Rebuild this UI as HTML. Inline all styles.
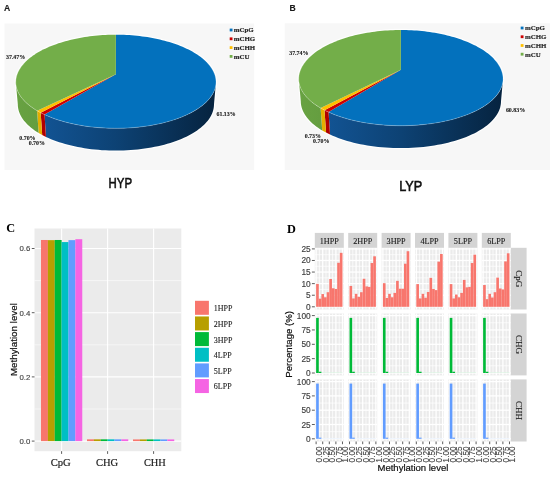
<!DOCTYPE html>
<html><head><meta charset="utf-8"><title>Methylation figure</title>
<style>html,body{margin:0;padding:0;background:#fff;}body{width:550px;height:478px;overflow:hidden;}svg{display:block;}</style>
</head><body>
<svg width="550" height="478" viewBox="0 0 550 478">
<defs><linearGradient id="pas0" gradientUnits="userSpaceOnUse" x1="15.8" y1="0" x2="216" y2="0"><stop offset="0" stop-color="#145a9f"/><stop offset="0.5" stop-color="#0d4274"/><stop offset="1" stop-color="#06233f"/></linearGradient><linearGradient id="pas1" gradientUnits="userSpaceOnUse" x1="15.8" y1="0" x2="216" y2="0"><stop offset="0" stop-color="#b80000"/><stop offset="0.5" stop-color="#9a0000"/><stop offset="1" stop-color="#700000"/></linearGradient><linearGradient id="pas2" gradientUnits="userSpaceOnUse" x1="15.8" y1="0" x2="216" y2="0"><stop offset="0" stop-color="#ecb400"/><stop offset="0.5" stop-color="#d09c00"/><stop offset="1" stop-color="#a07800"/></linearGradient><linearGradient id="pas3" gradientUnits="userSpaceOnUse" x1="15.8" y1="0" x2="216" y2="0"><stop offset="0" stop-color="#68a242"/><stop offset="0.5" stop-color="#5a8f38"/><stop offset="1" stop-color="#3f6a28"/></linearGradient><linearGradient id="pbs0" gradientUnits="userSpaceOnUse" x1="298.75" y1="0" x2="503.05" y2="0"><stop offset="0" stop-color="#145a9f"/><stop offset="0.5" stop-color="#0d4274"/><stop offset="1" stop-color="#06233f"/></linearGradient><linearGradient id="pbs1" gradientUnits="userSpaceOnUse" x1="298.75" y1="0" x2="503.05" y2="0"><stop offset="0" stop-color="#b80000"/><stop offset="0.5" stop-color="#9a0000"/><stop offset="1" stop-color="#700000"/></linearGradient><linearGradient id="pbs2" gradientUnits="userSpaceOnUse" x1="298.75" y1="0" x2="503.05" y2="0"><stop offset="0" stop-color="#ecb400"/><stop offset="0.5" stop-color="#d09c00"/><stop offset="1" stop-color="#a07800"/></linearGradient><linearGradient id="pbs3" gradientUnits="userSpaceOnUse" x1="298.75" y1="0" x2="503.05" y2="0"><stop offset="0" stop-color="#68a242"/><stop offset="0.5" stop-color="#5a8f38"/><stop offset="1" stop-color="#3f6a28"/></linearGradient></defs>
<rect width="550" height="478" fill="#fff"/>
<text x="4" y="10.9" font-family='"Liberation Sans", Arial, sans-serif' font-size="8.6" font-weight="bold" fill="#1a1a1a" stroke="#1a1a1a" stroke-width="0.15">A</text>
<text x="289.4" y="11" font-family='"Liberation Sans", Arial, sans-serif' font-size="8.6" font-weight="bold" fill="#1a1a1a" stroke="#1a1a1a" stroke-width="0.15">B</text>
<text x="6.3" y="232.4" font-family='"Liberation Serif", "Times New Roman", serif' font-size="12.3" font-weight="bold" fill="#000">C</text>
<text x="286.9" y="233.0" font-family='"Liberation Serif", "Times New Roman", serif' font-size="12.3" font-weight="bold" fill="#000">D</text>
<rect x="4.5" y="23.5" width="249.7" height="146.5" fill="#f7f7f7"/>
<rect x="284.7" y="23.3" width="265.3" height="146.7" fill="#f7f7f7"/>
<path d="M15.8,82.04 L15.82,81.01 L15.9,79.98 L16.02,78.96 L16.18,77.95 L16.39,76.94 L16.65,75.93 L16.96,74.93 L17.3,73.94 L17.69,72.95 L18.13,71.97 L18.61,71 L19.12,70.04 L19.68,69.09 L20.28,68.14 L20.92,67.2 L21.6,66.27 L22.32,65.35 L23.08,64.45 L23.87,63.55 L24.7,62.66 L25.56,61.78 L26.46,60.91 L27.39,60.06 L28.36,59.22 L29.36,58.38 L30.39,57.56 L31.45,56.76 L32.55,55.96 L33.67,55.18 L34.82,54.41 L36,53.65 L37.21,52.91 L38.45,52.18 L39.71,51.46 L41,50.75 L42.31,50.06 L43.65,49.39 L45.01,48.73 L46.4,48.08 L47.81,47.45 L49.24,46.83 L50.69,46.22 L52.16,45.63 L53.66,45.06 L55.17,44.5 L56.7,43.95 L58.25,43.42 L59.81,42.91 L61.4,42.41 L63,41.92 L64.61,41.45 L66.25,41 L67.89,40.56 L69.55,40.13 L71.23,39.73 L72.91,39.33 L74.61,38.96 L76.32,38.6 L78.05,38.25 L79.78,37.92 L81.52,37.61 L83.28,37.31 L85.04,37.03 L86.81,36.77 L88.59,36.52 L90.38,36.28 L92.17,36.06 L93.97,35.86 L95.78,35.68 L97.59,35.51 L99.4,35.35 L101.23,35.22 L103.05,35.1 L104.88,34.99 L106.71,34.9 L108.55,34.83 L110.38,34.77 L112.22,34.73 L114.06,34.71 L115.9,34.7 L117.74,34.71 L119.58,34.73 L121.42,34.77 L123.25,34.83 L125.09,34.9 L126.92,34.99 L128.75,35.1 L130.57,35.22 L132.4,35.35 L134.21,35.51 L136.02,35.68 L137.83,35.86 L139.63,36.06 L141.42,36.28 L143.21,36.52 L144.99,36.77 L146.76,37.03 L148.52,37.31 L150.28,37.61 L152.02,37.92 L153.75,38.25 L155.48,38.6 L157.19,38.96 L158.89,39.33 L160.57,39.73 L162.25,40.13 L163.91,40.56 L165.55,41 L167.19,41.45 L168.8,41.92 L170.4,42.41 L171.99,42.91 L173.55,43.42 L175.1,43.95 L176.63,44.5 L178.14,45.06 L179.64,45.63 L181.11,46.22 L182.56,46.83 L183.99,47.45 L185.4,48.08 L186.79,48.73 L188.15,49.39 L189.49,50.06 L190.8,50.75 L192.09,51.46 L193.35,52.18 L194.59,52.91 L195.8,53.65 L196.98,54.41 L198.13,55.18 L199.25,55.96 L200.35,56.76 L201.41,57.56 L202.44,58.38 L203.44,59.22 L204.41,60.06 L205.34,60.91 L206.24,61.78 L207.1,62.66 L207.93,63.55 L208.72,64.45 L209.48,65.35 L210.2,66.27 L210.88,67.2 L211.52,68.14 L212.12,69.09 L212.68,70.04 L213.19,71 L213.67,71.97 L214.11,72.95 L214.5,73.94 L214.84,74.93 L215.15,75.93 L215.41,76.94 L215.62,77.95 L215.78,78.96 L215.9,79.98 L215.98,81.01 L216,82.04 L214,104.34 L213.97,105.45 L213.89,106.56 L213.75,107.68 L213.55,108.8 L213.29,109.92 L212.98,111.05 L212.61,112.17 L212.18,113.29 L211.69,114.41 L211.14,115.52 L210.53,116.64 L209.85,117.75 L209.12,118.85 L208.33,119.95 L207.48,121.04 L206.56,122.13 L205.58,123.21 L204.55,124.28 L203.45,125.34 L202.29,126.39 L201.07,127.42 L199.79,128.45 L198.45,129.46 L197.05,130.46 L195.59,131.44 L194.07,132.41 L192.49,133.36 L190.86,134.3 L189.17,135.22 L187.42,136.11 L185.62,136.99 L183.77,137.85 L181.86,138.68 L179.9,139.5 L177.89,140.28 L175.83,141.05 L173.72,141.79 L171.56,142.51 L169.36,143.2 L167.12,143.86 L164.83,144.49 L162.5,145.1 L160.14,145.68 L157.73,146.23 L155.29,146.75 L152.82,147.23 L150.32,147.69 L147.79,148.11 L145.23,148.51 L142.64,148.87 L140.03,149.19 L137.41,149.49 L134.76,149.75 L132.1,149.97 L129.42,150.16 L126.73,150.32 L124.03,150.44 L121.32,150.53 L118.61,150.58 L115.9,150.6 L113.19,150.58 L110.48,150.53 L107.77,150.44 L105.07,150.32 L102.38,150.16 L99.7,149.97 L97.04,149.75 L94.39,149.49 L91.77,149.19 L89.16,148.87 L86.57,148.51 L84.01,148.11 L81.48,147.69 L78.98,147.23 L76.51,146.75 L74.07,146.23 L71.66,145.68 L69.3,145.1 L66.97,144.49 L64.68,143.86 L62.44,143.2 L60.24,142.51 L58.08,141.79 L55.97,141.05 L53.91,140.28 L51.9,139.5 L49.94,138.68 L48.03,137.85 L46.18,136.99 L44.38,136.11 L42.63,135.22 L40.94,134.3 L39.31,133.36 L37.73,132.41 L36.21,131.44 L34.75,130.46 L33.35,129.46 L32.01,128.45 L30.73,127.42 L29.51,126.39 L28.35,125.34 L27.25,124.28 L26.22,123.21 L25.24,122.13 L24.32,121.04 L23.47,119.95 L22.68,118.85 L21.95,117.75 L21.27,116.64 L20.66,115.52 L20.11,114.41 L19.62,113.29 L19.19,112.17 L18.82,111.05 L18.51,109.92 L18.25,108.8 L18.05,107.68 L17.91,106.56 L17.83,105.45 L17.8,104.34Z" fill="#fff" stroke="#fff" stroke-opacity="0.85" stroke-width="2.4"/>
<path d="M216,82.04 L215.95,83.52 L215.8,85 L215.54,86.49 L215.19,87.98 L214.72,89.48 L214.15,90.97 L213.47,92.45 L212.69,93.94 L211.79,95.41 L210.79,96.88 L209.67,98.34 L208.45,99.79 L207.11,101.22 L205.67,102.64 L204.11,104.03 L202.45,105.41 L200.67,106.77 L198.79,108.1 L196.8,109.41 L194.71,110.69 L192.51,111.93 L190.21,113.15 L187.8,114.33 L185.3,115.48 L182.71,116.59 L180.02,117.66 L177.24,118.68 L174.37,119.67 L171.42,120.6 L168.39,121.5 L165.28,122.34 L162.1,123.13 L158.86,123.87 L155.54,124.56 L152.17,125.19 L148.75,125.77 L145.27,126.29 L141.75,126.75 L138.19,127.15 L134.6,127.49 L130.98,127.78 L127.33,128 L123.67,128.16 L119.99,128.26 L116.31,128.3 L112.63,128.28 L108.95,128.19 L105.29,128.04 L101.64,127.83 L98.01,127.56 L94.41,127.23 L90.84,126.84 L87.31,126.39 L83.83,125.89 L80.39,125.32 L77.01,124.7 L73.68,124.03 L70.42,123.3 L67.22,122.52 L64.1,121.69 L61.05,120.81 L58.08,119.88 L55.19,118.91 L52.4,117.89 L49.69,116.83 L47.07,115.73 L44.55,114.59 L45.97,136.89 L48.44,138.03 L51.01,139.13 L53.67,140.19 L56.41,141.21 L59.24,142.18 L62.15,143.11 L65.13,143.99 L68.19,144.82 L71.33,145.6 L74.52,146.33 L77.78,147 L81.1,147.62 L84.47,148.19 L87.88,148.69 L91.34,149.14 L94.84,149.53 L98.37,149.86 L101.92,150.13 L105.5,150.34 L109.09,150.49 L112.7,150.58 L116.3,150.6 L119.91,150.56 L123.51,150.46 L127.1,150.3 L130.67,150.08 L134.22,149.79 L137.75,149.45 L141.23,149.05 L144.68,148.59 L148.09,148.07 L151.45,147.49 L154.75,146.86 L158,146.17 L161.18,145.43 L164.3,144.64 L167.34,143.8 L170.31,142.9 L173.2,141.97 L176.01,140.98 L178.74,139.96 L181.37,138.89 L183.92,137.78 L186.37,136.63 L188.72,135.45 L190.98,134.23 L193.13,132.99 L195.18,131.71 L197.13,130.4 L198.98,129.07 L200.72,127.71 L202.35,126.33 L203.87,124.94 L205.29,123.52 L206.6,122.09 L207.8,120.64 L208.89,119.18 L209.88,117.71 L210.75,116.24 L211.52,114.75 L212.19,113.27 L212.75,111.78 L213.2,110.28 L213.55,108.79 L213.8,107.3 L213.95,105.82 L214,104.34Z" fill="url(#pas0)"/>
<path d="M44.55,114.59 L42.58,113.65 L40.68,112.68 L42.19,134.98 L44.05,135.95 L45.97,136.89Z" fill="url(#pas1)"/>
<path d="M40.68,112.68 L38.85,111.69 L37.08,110.68 L38.66,132.98 L40.39,133.99 L42.19,134.98Z" fill="url(#pas2)"/>
<path d="M37.08,110.68 L34.99,109.4 L33,108.1 L31.12,106.76 L29.35,105.41 L27.68,104.03 L26.13,102.63 L24.68,101.22 L23.35,99.78 L22.12,98.34 L21.01,96.88 L20,95.41 L19.11,93.93 L18.32,92.45 L17.65,90.96 L17.08,89.47 L16.61,87.98 L16.26,86.49 L16,85 L15.85,83.52 L15.8,82.04 L17.8,104.34 L17.85,105.82 L18,107.3 L18.25,108.79 L18.6,110.28 L19.05,111.77 L19.61,113.26 L20.28,114.75 L21.05,116.23 L21.92,117.71 L22.91,119.18 L24,120.64 L25.2,122.08 L26.51,123.52 L27.92,124.93 L29.45,126.33 L31.08,127.71 L32.82,129.06 L34.66,130.4 L36.61,131.7 L38.66,132.98Z" fill="url(#pas3)"/>
<path d="M115.9,74.3 L115.9,34.7 L118.56,34.72 L121.21,34.77 L123.86,34.85 L126.51,34.97 L129.15,35.12 L131.78,35.31 L134.4,35.53 L137.02,35.78 L139.62,36.06 L142.21,36.38 L144.78,36.74 L147.33,37.12 L149.87,37.54 L152.39,37.99 L154.88,38.48 L157.36,39 L159.8,39.55 L162.23,40.13 L164.62,40.75 L166.98,41.39 L169.31,42.07 L171.61,42.79 L173.87,43.53 L176.1,44.3 L178.28,45.11 L180.43,45.95 L182.53,46.81 L184.59,47.71 L186.6,48.64 L188.57,49.6 L190.48,50.58 L192.34,51.6 L194.15,52.64 L195.9,53.72 L197.59,54.81 L199.23,55.94 L200.8,57.09 L202.3,58.27 L203.74,59.47 L205.11,60.7 L206.41,61.95 L207.63,63.22 L208.79,64.52 L209.86,65.83 L210.85,67.17 L211.77,68.53 L212.6,69.9 L213.34,71.29 L214,72.7 L214.56,74.12 L215.04,75.56 L215.42,77.01 L215.71,78.47 L215.9,79.94 L215.99,81.42 L215.98,82.91 L215.87,84.4 L215.66,85.9 L215.34,87.4 L214.91,88.9 L214.38,90.4 L213.74,91.9 L212.99,93.4 L212.13,94.88 L211.16,96.37 L210.07,97.84 L208.88,99.3 L207.57,100.74 L206.16,102.17 L204.63,103.59 L202.99,104.98 L201.23,106.35 L199.37,107.7 L197.4,109.02 L195.33,110.32 L193.14,111.58 L190.86,112.82 L188.47,114.01 L185.98,115.18 L183.39,116.3 L180.71,117.39 L177.94,118.43 L175.07,119.43 L172.12,120.39 L169.09,121.3 L165.98,122.15 L162.8,122.96 L159.54,123.72 L156.23,124.42 L152.85,125.07 L149.41,125.66 L145.92,126.19 L142.39,126.67 L138.81,127.09 L135.2,127.44 L131.56,127.74 L127.9,127.97 L124.21,128.14 L120.52,128.25 L116.81,128.3 L113.11,128.28 L109.41,128.2 L105.72,128.06 L102.04,127.86 L98.39,127.59 L94.76,127.27 L91.17,126.88 L87.62,126.44 L84.11,125.93 L80.64,125.37 L77.23,124.75 L73.88,124.07 L70.6,123.34 L67.38,122.56 L64.23,121.72 L61.16,120.84 L58.17,119.91 L55.27,118.93 L52.45,117.91 L49.72,116.84 L47.08,115.74 L44.55,114.59Z" fill="#0371bd"/>
<path d="M115.9,74.3 L44.55,114.59 L42.58,113.65 L40.68,112.68Z" fill="#cc0000"/>
<path d="M115.9,74.3 L40.68,112.68 L38.85,111.69 L37.08,110.68Z" fill="#ffc000"/>
<path d="M115.9,74.3 L37.08,110.68 L35,109.41 L33.01,108.1 L31.14,106.78 L29.37,105.42 L27.71,104.05 L26.15,102.66 L24.71,101.25 L23.38,99.82 L22.15,98.38 L21.04,96.92 L20.04,95.46 L19.14,93.99 L18.35,92.51 L17.67,91.03 L17.1,89.54 L16.63,88.06 L16.27,86.57 L16.01,85.08 L15.86,83.6 L15.8,82.13 L15.84,80.66 L15.98,79.19 L16.22,77.74 L16.55,76.3 L16.98,74.87 L17.49,73.45 L18.09,72.05 L18.78,70.66 L19.56,69.29 L20.42,67.94 L21.36,66.6 L22.38,65.29 L23.47,63.99 L24.64,62.72 L25.88,61.46 L27.2,60.23 L28.58,59.03 L30.03,57.85 L31.54,56.69 L33.12,55.56 L34.76,54.45 L36.45,53.37 L38.2,52.32 L40.01,51.29 L41.87,50.29 L43.78,49.32 L45.74,48.38 L47.75,47.47 L49.8,46.59 L51.89,45.74 L54.03,44.92 L56.2,44.13 L58.41,43.37 L60.66,42.64 L62.95,41.94 L65.26,41.27 L67.61,40.63 L69.98,40.03 L72.38,39.46 L74.81,38.92 L77.27,38.41 L79.74,37.93 L82.24,37.49 L84.75,37.08 L87.29,36.7 L89.84,36.35 L92.4,36.04 L94.98,35.76 L97.57,35.51 L100.17,35.3 L102.78,35.11 L105.39,34.96 L108.01,34.85 L110.64,34.77 L113.27,34.72 L115.9,34.7Z" fill="#73ae49"/>
<path d="M207.81,63.41 L208.65,64.36 L209.45,65.31 L210.2,66.28 L210.92,67.26 L211.59,68.25 L212.22,69.25 L212.8,70.26 L213.34,71.28 L213.82,72.31 L214.27,73.35 L214.66,74.39 L215,75.44 L215.3,76.5 L215.54,77.56 L215.74,78.63 L215.88,79.71 L215.96,80.79 L216,81.87 L215.98,82.96 L215.91,84.05 L215.78,85.14 L215.59,86.24 L215.35,87.33 L215.06,88.43 L214.7,89.53 L214.29,90.62 L213.82,91.72 L213.29,92.81 L212.71,93.9 L212.06,94.99 L211.36,96.07 L210.59,97.15 L209.77,98.22 L208.89,99.29 L207.94,100.35 L206.94,101.4 L205.88,102.44 L204.76,103.47 L203.58,104.49 L202.34,105.5 L201.04,106.5 L199.68,107.49 L198.26,108.46 L196.79,109.42 L195.26,110.36 L193.67,111.29 L192.03,112.2 L190.33,113.09 L188.58,113.96 L186.77,114.82 L184.91,115.65 L183,116.47 L181.04,117.26 L179.03,118.03 L176.97,118.78 L174.86,119.5 L172.71,120.2 L170.52,120.88 L168.28,121.53 L166,122.15 L163.68,122.75 L161.32,123.31 L158.93,123.85 L156.5,124.37 L154.04,124.85 L151.54,125.3 L149.02,125.72 L146.47,126.11 L143.9,126.47 L141.31,126.8 L138.69,127.1 L136.05,127.36 L133.4,127.6 L130.73,127.8 L128.05,127.96 L125.36,128.1 L122.66,128.2 L119.96,128.26 L117.25,128.3 L114.55,128.3 L111.84,128.26 L109.14,128.2 L106.44,128.1 L103.75,127.96 L101.07,127.8 L98.4,127.6 L95.75,127.36 L93.11,127.1 L90.49,126.8 L87.9,126.47 L85.33,126.11 L82.78,125.72 L80.26,125.3 L77.76,124.85 L75.3,124.37 L72.87,123.85 L70.48,123.31 L68.12,122.75 L65.8,122.15 L63.52,121.53 L61.28,120.88 L59.09,120.2 L56.94,119.5 L54.83,118.78 L52.77,118.03 L50.76,117.26 L48.8,116.47 L46.89,115.65 L45.03,114.82 L43.22,113.96 L41.47,113.09 L39.77,112.2 L38.13,111.29 L36.54,110.36 L35.01,109.42 L33.54,108.46 L32.12,107.49 L30.76,106.5 L29.46,105.5 L28.22,104.49 L27.04,103.47 L25.92,102.44 L24.86,101.4 L23.86,100.35 L22.91,99.29 L22.03,98.22 L21.21,97.15 L20.44,96.07 L19.74,94.99 L19.09,93.9 L18.51,92.81 L17.98,91.72 L17.51,90.62 L17.1,89.53 L16.74,88.43 L16.45,87.33 L16.21,86.24 L16.02,85.14 L15.89,84.05 L15.82,82.96 L15.8,81.87 L15.84,80.79 L15.92,79.71 L16.06,78.63 L16.26,77.56 L16.5,76.5 L16.8,75.44 L17.14,74.39 L17.53,73.35 L17.98,72.31 L18.46,71.28 L19,70.26 L19.58,69.25 L20.21,68.25 L20.88,67.26 L21.6,66.28 L22.35,65.31 L23.15,64.36 L23.99,63.41" fill="none" stroke="#ffffff" stroke-opacity="0.35" stroke-width="0.7"/>
<path d="M298.75,78.82 L298.78,77.75 L298.85,76.68 L298.98,75.62 L299.15,74.57 L299.38,73.51 L299.65,72.47 L299.97,71.43 L300.34,70.4 L300.75,69.37 L301.2,68.36 L301.7,67.35 L302.25,66.35 L302.83,65.36 L303.46,64.37 L304.13,63.4 L304.84,62.44 L305.59,61.49 L306.38,60.55 L307.2,59.62 L308.06,58.7 L308.96,57.79 L309.9,56.89 L310.86,56.01 L311.87,55.14 L312.9,54.28 L313.97,53.43 L315.07,52.6 L316.2,51.78 L317.36,50.97 L318.55,50.18 L319.76,49.4 L321.01,48.63 L322.28,47.88 L323.58,47.14 L324.9,46.42 L326.25,45.71 L327.63,45.02 L329.02,44.34 L330.44,43.67 L331.89,43.02 L333.35,42.39 L334.83,41.77 L336.34,41.16 L337.86,40.57 L339.4,40 L340.97,39.44 L342.54,38.9 L344.14,38.37 L345.75,37.86 L347.38,37.36 L349.02,36.88 L350.68,36.42 L352.36,35.97 L354.04,35.54 L355.74,35.12 L357.45,34.72 L359.17,34.34 L360.91,33.97 L362.65,33.62 L364.41,33.28 L366.18,32.96 L367.95,32.66 L369.73,32.37 L371.52,32.1 L373.32,31.85 L375.13,31.61 L376.94,31.39 L378.76,31.18 L380.59,30.99 L382.42,30.82 L384.25,30.67 L386.09,30.53 L387.93,30.4 L389.78,30.3 L391.63,30.21 L393.48,30.13 L395.33,30.07 L397.19,30.03 L399.04,30.01 L400.9,30 L402.76,30.01 L404.61,30.03 L406.47,30.07 L408.32,30.13 L410.17,30.21 L412.02,30.3 L413.87,30.4 L415.71,30.53 L417.55,30.67 L419.38,30.82 L421.21,30.99 L423.04,31.18 L424.86,31.39 L426.67,31.61 L428.48,31.85 L430.28,32.1 L432.07,32.37 L433.85,32.66 L435.62,32.96 L437.39,33.28 L439.15,33.62 L440.89,33.97 L442.63,34.34 L444.35,34.72 L446.06,35.12 L447.76,35.54 L449.44,35.97 L451.12,36.42 L452.78,36.88 L454.42,37.36 L456.05,37.86 L457.66,38.37 L459.26,38.9 L460.83,39.44 L462.4,40 L463.94,40.57 L465.46,41.16 L466.97,41.77 L468.45,42.39 L469.91,43.02 L471.36,43.67 L472.78,44.34 L474.17,45.02 L475.55,45.71 L476.9,46.42 L478.22,47.14 L479.52,47.88 L480.79,48.63 L482.04,49.4 L483.25,50.18 L484.44,50.97 L485.6,51.78 L486.73,52.6 L487.83,53.43 L488.9,54.28 L489.93,55.14 L490.94,56.01 L491.9,56.89 L492.84,57.79 L493.74,58.7 L494.6,59.62 L495.42,60.55 L496.21,61.49 L496.96,62.44 L497.67,63.4 L498.34,64.37 L498.97,65.36 L499.55,66.35 L500.1,67.35 L500.6,68.36 L501.05,69.37 L501.46,70.4 L501.83,71.43 L502.15,72.47 L502.42,73.51 L502.65,74.57 L502.82,75.62 L502.95,76.68 L503.02,77.75 L503.05,78.82 L501.01,101.22 L500.98,102.35 L500.9,103.47 L500.76,104.6 L500.56,105.73 L500.31,106.86 L499.99,107.99 L499.62,109.12 L499.19,110.26 L498.7,111.39 L498.15,112.51 L497.54,113.64 L496.87,114.76 L496.13,115.88 L495.34,116.99 L494.48,118.09 L493.56,119.19 L492.57,120.28 L491.53,121.36 L490.42,122.44 L489.25,123.5 L488.02,124.55 L486.73,125.59 L485.37,126.61 L483.95,127.63 L482.48,128.62 L480.94,129.6 L479.34,130.57 L477.68,131.52 L475.96,132.45 L474.19,133.36 L472.36,134.25 L470.47,135.12 L468.52,135.97 L466.53,136.8 L464.48,137.6 L462.37,138.38 L460.22,139.13 L458.02,139.86 L455.77,140.56 L453.47,141.23 L451.13,141.88 L448.75,142.5 L446.33,143.09 L443.87,143.64 L441.37,144.17 L438.83,144.67 L436.26,145.13 L433.67,145.57 L431.04,145.97 L428.39,146.33 L425.71,146.67 L423.01,146.97 L420.29,147.23 L417.55,147.46 L414.8,147.66 L412.03,147.81 L409.26,147.94 L406.48,148.03 L403.69,148.08 L400.9,148.1 L398.11,148.08 L395.32,148.03 L392.54,147.94 L389.77,147.81 L387,147.66 L384.25,147.46 L381.51,147.23 L378.79,146.97 L376.09,146.67 L373.41,146.33 L370.76,145.97 L368.13,145.57 L365.54,145.13 L362.97,144.67 L360.43,144.17 L357.93,143.64 L355.47,143.09 L353.05,142.5 L350.67,141.88 L348.33,141.23 L346.03,140.56 L343.78,139.86 L341.58,139.13 L339.43,138.38 L337.32,137.6 L335.27,136.8 L333.28,135.97 L331.33,135.12 L329.44,134.25 L327.61,133.36 L325.84,132.45 L324.12,131.52 L322.46,130.57 L320.86,129.6 L319.32,128.62 L317.85,127.63 L316.43,126.61 L315.07,125.59 L313.78,124.55 L312.55,123.5 L311.38,122.44 L310.27,121.36 L309.23,120.28 L308.24,119.19 L307.32,118.09 L306.46,116.99 L305.67,115.88 L304.93,114.76 L304.26,113.64 L303.65,112.51 L303.1,111.39 L302.61,110.26 L302.18,109.12 L301.81,107.99 L301.49,106.86 L301.24,105.73 L301.04,104.6 L300.9,103.47 L300.82,102.35 L300.79,101.22Z" fill="#fff" stroke="#fff" stroke-opacity="0.85" stroke-width="2.4"/>
<path d="M503.05,78.82 L503,80.35 L502.84,81.89 L502.57,83.43 L502.2,84.98 L501.71,86.52 L501.11,88.07 L500.39,89.61 L499.57,91.14 L498.62,92.67 L497.56,94.19 L496.38,95.7 L495.08,97.2 L493.66,98.68 L492.13,100.14 L490.48,101.59 L488.71,103.01 L486.82,104.41 L484.81,105.79 L482.69,107.13 L480.46,108.45 L478.11,109.73 L475.65,110.98 L473.08,112.19 L470.41,113.36 L467.63,114.49 L464.76,115.57 L461.78,116.61 L458.72,117.6 L455.56,118.55 L452.32,119.44 L448.99,120.28 L445.59,121.06 L442.12,121.79 L438.58,122.46 L434.98,123.06 L431.33,123.61 L427.62,124.1 L423.87,124.52 L420.08,124.88 L416.26,125.18 L412.42,125.41 L408.55,125.57 L404.68,125.67 L400.79,125.7 L396.91,125.66 L393.03,125.56 L389.17,125.4 L385.33,125.16 L381.51,124.86 L377.72,124.5 L373.97,124.07 L370.27,123.58 L366.62,123.03 L363.02,122.42 L359.49,121.75 L356.02,121.02 L352.62,120.23 L349.3,119.39 L346.07,118.5 L342.91,117.55 L339.85,116.56 L336.88,115.51 L334.01,114.43 L331.24,113.29 L328.57,112.12 L330.02,134.52 L332.63,135.69 L335.35,136.83 L338.16,137.91 L341.07,138.96 L344.07,139.95 L347.16,140.9 L350.34,141.79 L353.59,142.63 L356.92,143.42 L360.32,144.15 L363.78,144.82 L367.3,145.43 L370.88,145.98 L374.51,146.47 L378.19,146.9 L381.9,147.26 L385.64,147.56 L389.4,147.8 L393.19,147.96 L396.99,148.06 L400.8,148.1 L404.6,148.07 L408.4,147.97 L412.19,147.81 L415.96,147.58 L419.7,147.28 L423.41,146.92 L427.09,146.5 L430.72,146.01 L434.3,145.46 L437.83,144.86 L441.3,144.19 L444.7,143.46 L448.03,142.68 L451.29,141.84 L454.47,140.95 L457.56,140 L460.57,139.01 L463.48,137.97 L466.3,136.89 L469.02,135.76 L471.64,134.59 L474.15,133.38 L476.56,132.13 L478.86,130.85 L481.05,129.53 L483.13,128.19 L485.1,126.81 L486.95,125.41 L488.69,123.99 L490.31,122.54 L491.81,121.08 L493.2,119.6 L494.47,118.1 L495.63,116.59 L496.67,115.07 L497.59,113.54 L498.4,112.01 L499.1,110.47 L499.69,108.92 L500.17,107.38 L500.54,105.83 L500.8,104.29 L500.96,102.75 L501.01,101.22Z" fill="url(#pbs0)"/>
<path d="M328.57,112.12 L326.51,111.15 L324.52,110.16 L326.05,132.56 L328,133.55 L330.02,134.52Z" fill="url(#pbs1)"/>
<path d="M324.52,110.16 L322.53,109.11 L320.62,108.03 L322.22,130.43 L324.1,131.51 L326.05,132.56Z" fill="url(#pbs2)"/>
<path d="M320.62,108.03 L318.45,106.73 L316.4,105.39 L314.46,104.04 L312.63,102.65 L310.92,101.25 L309.32,99.82 L307.83,98.37 L306.46,96.91 L305.21,95.44 L304.06,93.95 L303.04,92.45 L302.12,90.95 L301.32,89.44 L300.63,87.92 L300.05,86.4 L299.58,84.88 L299.21,83.36 L298.95,81.84 L298.8,80.33 L298.75,78.82 L300.79,101.22 L300.84,102.73 L300.99,104.24 L301.25,105.76 L301.6,107.28 L302.07,108.8 L302.63,110.32 L303.31,111.84 L304.1,113.35 L304.99,114.85 L306,116.35 L307.12,117.84 L308.35,119.31 L309.69,120.77 L311.15,122.22 L312.72,123.65 L314.4,125.05 L316.19,126.44 L318.09,127.79 L320.1,129.13 L322.22,130.43Z" fill="url(#pbs3)"/>
<path d="M400.9,69.7 L400.9,30 L403.55,30.02 L406.19,30.07 L408.84,30.15 L411.48,30.27 L414.11,30.42 L416.74,30.6 L419.36,30.82 L421.96,31.07 L424.56,31.35 L427.15,31.67 L429.72,32.02 L432.28,32.41 L434.82,32.82 L437.34,33.27 L439.84,33.76 L442.32,34.27 L444.78,34.82 L447.21,35.4 L449.62,36.02 L451.99,36.66 L454.34,37.34 L456.66,38.05 L458.95,38.8 L461.2,39.57 L463.42,40.38 L465.59,41.22 L467.73,42.08 L469.83,42.98 L471.88,43.91 L473.88,44.88 L475.84,45.87 L477.75,46.89 L479.61,47.94 L481.41,49.01 L483.16,50.12 L484.85,51.26 L486.48,52.42 L488.05,53.61 L489.55,54.82 L490.99,56.06 L492.36,57.33 L493.66,58.61 L494.88,59.93 L496.03,61.26 L497.1,62.62 L498.08,64 L498.99,65.4 L499.81,66.81 L500.55,68.25 L501.19,69.7 L501.74,71.17 L502.2,72.65 L502.56,74.14 L502.83,75.65 L502.99,77.17 L503.05,78.69 L503.01,80.23 L502.86,81.77 L502.6,83.31 L502.23,84.86 L501.75,86.4 L501.16,87.95 L500.45,89.49 L499.63,91.03 L498.69,92.56 L497.64,94.08 L496.47,95.6 L495.17,97.1 L493.76,98.58 L492.24,100.05 L490.59,101.5 L488.82,102.92 L486.94,104.33 L484.94,105.7 L482.82,107.05 L480.59,108.37 L478.25,109.66 L475.79,110.91 L473.23,112.12 L470.56,113.3 L467.78,114.43 L464.91,115.52 L461.93,116.56 L458.87,117.56 L455.71,118.5 L452.47,119.4 L449.14,120.24 L445.74,121.03 L442.27,121.76 L438.73,122.43 L435.12,123.04 L431.47,123.59 L427.76,124.08 L424,124.51 L420.21,124.87 L416.39,125.17 L412.54,125.4 L408.67,125.57 L404.79,125.67 L400.9,125.7 L397.01,125.67 L393.13,125.57 L389.26,125.4 L385.41,125.17 L381.59,124.87 L377.8,124.51 L374.04,124.08 L370.33,123.59 L366.68,123.04 L363.07,122.43 L359.53,121.76 L356.06,121.03 L352.66,120.24 L349.33,119.4 L346.09,118.5 L342.93,117.56 L339.87,116.56 L336.89,115.52 L334.02,114.43 L331.24,113.3 L328.57,112.12Z" fill="#0371bd"/>
<path d="M400.9,69.7 L328.57,112.12 L326.51,111.15 L324.52,110.16Z" fill="#cc0000"/>
<path d="M400.9,69.7 L324.52,110.16 L322.53,109.11 L320.62,108.03Z" fill="#ffc000"/>
<path d="M400.9,69.7 L320.62,108.03 L318.42,106.71 L316.34,105.36 L314.38,103.98 L312.53,102.57 L310.8,101.15 L309.19,99.7 L307.69,98.23 L306.31,96.75 L305.05,95.25 L303.91,93.74 L302.89,92.22 L301.98,90.69 L301.19,89.16 L300.51,87.62 L299.94,86.08 L299.49,84.54 L299.14,83 L298.91,81.46 L298.78,79.93 L298.75,78.4 L298.83,76.88 L299.02,75.37 L299.3,73.87 L299.67,72.38 L300.15,70.91 L300.71,69.45 L301.37,68.01 L302.12,66.58 L302.95,65.17 L303.87,63.78 L304.86,62.41 L305.94,61.06 L307.1,59.73 L308.33,58.43 L309.63,57.15 L311,55.89 L312.44,54.66 L313.95,53.45 L315.52,52.27 L317.15,51.11 L318.84,49.99 L320.59,48.89 L322.4,47.82 L324.25,46.77 L326.16,45.76 L328.12,44.78 L330.12,43.82 L332.17,42.9 L334.26,42 L336.4,41.14 L338.57,40.31 L340.78,39.51 L343.03,38.74 L345.31,38 L347.62,37.29 L349.97,36.62 L352.34,35.98 L354.74,35.37 L357.17,34.79 L359.62,34.24 L362.09,33.73 L364.58,33.25 L367.1,32.8 L369.63,32.39 L372.18,32.01 L374.74,31.66 L377.32,31.35 L379.91,31.06 L382.51,30.81 L385.12,30.6 L387.74,30.42 L390.36,30.27 L392.99,30.15 L395.62,30.07 L398.26,30.02 L400.9,30Z" fill="#73ae49"/>
<path d="M493.71,58.67 L494.61,59.63 L495.46,60.59 L496.28,61.57 L497.05,62.56 L497.78,63.57 L498.47,64.58 L499.12,65.6 L499.71,66.63 L500.26,67.68 L500.77,68.73 L501.23,69.79 L501.63,70.86 L501.99,71.94 L502.3,73.02 L502.55,74.11 L502.76,75.21 L502.91,76.31 L503.01,77.42 L503.05,78.53 L503.03,79.65 L502.97,80.77 L502.84,81.89 L502.66,83.02 L502.41,84.14 L502.11,85.27 L501.75,86.4 L501.33,87.52 L500.85,88.65 L500.31,89.77 L499.71,90.9 L499.04,92.01 L498.32,93.13 L497.53,94.24 L496.67,95.34 L495.76,96.44 L494.78,97.52 L493.74,98.6 L492.64,99.68 L491.47,100.74 L490.24,101.79 L488.95,102.83 L487.59,103.85 L486.17,104.87 L484.69,105.87 L483.15,106.85 L481.55,107.82 L479.88,108.77 L478.16,109.7 L476.38,110.62 L474.54,111.51 L472.64,112.39 L470.69,113.24 L468.68,114.07 L466.61,114.88 L464.5,115.67 L462.33,116.43 L460.11,117.16 L457.85,117.87 L455.53,118.55 L453.17,119.21 L450.77,119.84 L448.33,120.44 L445.84,121.01 L443.32,121.54 L440.76,122.05 L438.16,122.53 L435.53,122.98 L432.88,123.39 L430.19,123.77 L427.48,124.12 L424.75,124.43 L421.99,124.71 L419.22,124.96 L416.43,125.17 L413.62,125.34 L410.81,125.48 L407.98,125.59 L405.15,125.66 L402.32,125.7 L399.48,125.7 L396.65,125.66 L393.82,125.59 L390.99,125.48 L388.18,125.34 L385.37,125.17 L382.58,124.96 L379.81,124.71 L377.05,124.43 L374.32,124.12 L371.61,123.77 L368.92,123.39 L366.27,122.98 L363.64,122.53 L361.04,122.05 L358.48,121.54 L355.96,121.01 L353.47,120.44 L351.03,119.84 L348.63,119.21 L346.27,118.55 L343.95,117.87 L341.69,117.16 L339.47,116.43 L337.3,115.67 L335.19,114.88 L333.12,114.07 L331.11,113.24 L329.16,112.39 L327.26,111.51 L325.42,110.62 L323.64,109.7 L321.92,108.77 L320.25,107.82 L318.65,106.85 L317.11,105.87 L315.63,104.87 L314.21,103.85 L312.85,102.83 L311.56,101.79 L310.33,100.74 L309.16,99.68 L308.06,98.6 L307.02,97.52 L306.04,96.44 L305.13,95.34 L304.27,94.24 L303.48,93.13 L302.76,92.01 L302.09,90.9 L301.49,89.77 L300.95,88.65 L300.47,87.52 L300.05,86.4 L299.69,85.27 L299.39,84.14 L299.14,83.02 L298.96,81.89 L298.83,80.77 L298.77,79.65 L298.75,78.53 L298.79,77.42 L298.89,76.31 L299.04,75.21 L299.25,74.11 L299.5,73.02 L299.81,71.94 L300.17,70.86 L300.57,69.79 L301.03,68.73 L301.54,67.68 L302.09,66.63 L302.68,65.6 L303.33,64.58 L304.02,63.57 L304.75,62.56 L305.52,61.57 L306.34,60.59 L307.19,59.63 L308.09,58.67" fill="none" stroke="#ffffff" stroke-opacity="0.35" stroke-width="0.7"/>
<text x="6.0" y="58.8" font-family='"Liberation Serif", "Times New Roman", serif' font-size="5.9" font-weight="bold" fill="#1a1a1a" stroke="#1a1a1a" stroke-width="0.12">37.47%</text>
<text x="216.5" y="115.9" font-family='"Liberation Serif", "Times New Roman", serif' font-size="5.9" font-weight="bold" fill="#1a1a1a" stroke="#1a1a1a" stroke-width="0.12">61.13%</text>
<text x="19.3" y="139.5" font-family='"Liberation Serif", "Times New Roman", serif' font-size="5.9" font-weight="bold" fill="#1a1a1a" stroke="#1a1a1a" stroke-width="0.12">0.70%</text>
<text x="28.7" y="144.6" font-family='"Liberation Serif", "Times New Roman", serif' font-size="5.9" font-weight="bold" fill="#1a1a1a" stroke="#1a1a1a" stroke-width="0.12">0.70%</text>
<text x="289.2" y="54.5" font-family='"Liberation Serif", "Times New Roman", serif' font-size="5.9" font-weight="bold" fill="#1a1a1a" stroke="#1a1a1a" stroke-width="0.12">37.74%</text>
<text x="505.9" y="111.7" font-family='"Liberation Serif", "Times New Roman", serif' font-size="5.9" font-weight="bold" fill="#1a1a1a" stroke="#1a1a1a" stroke-width="0.12">60.83%</text>
<text x="304.7" y="137.5" font-family='"Liberation Serif", "Times New Roman", serif' font-size="5.9" font-weight="bold" fill="#1a1a1a" stroke="#1a1a1a" stroke-width="0.12">0.73%</text>
<text x="313.1" y="142.5" font-family='"Liberation Serif", "Times New Roman", serif' font-size="5.9" font-weight="bold" fill="#1a1a1a" stroke="#1a1a1a" stroke-width="0.12">0.70%</text>
<rect x="229.7" y="28.6" width="2.8" height="2.8" fill="#0371bd"/>
<text x="233.8" y="32.3" font-family='"Liberation Serif", "Times New Roman", serif' font-size="6.9" font-weight="bold" fill="#262626" stroke="#262626" stroke-width="0.18">mCpG</text>
<rect x="229.7" y="37.4" width="2.8" height="2.8" fill="#cc0000"/>
<text x="233.8" y="41.1" font-family='"Liberation Serif", "Times New Roman", serif' font-size="6.9" font-weight="bold" fill="#262626" stroke="#262626" stroke-width="0.18">mCHG</text>
<rect x="229.7" y="46.2" width="2.8" height="2.8" fill="#ffc000"/>
<text x="233.8" y="49.9" font-family='"Liberation Serif", "Times New Roman", serif' font-size="6.9" font-weight="bold" fill="#262626" stroke="#262626" stroke-width="0.18">mCHH</text>
<rect x="229.7" y="55" width="2.8" height="2.8" fill="#73ae49"/>
<text x="233.8" y="58.7" font-family='"Liberation Serif", "Times New Roman", serif' font-size="6.9" font-weight="bold" fill="#262626" stroke="#262626" stroke-width="0.18">mCU</text>
<rect x="520.7" y="26.6" width="2.8" height="2.8" fill="#0371bd"/>
<text x="525.0" y="30.3" font-family='"Liberation Serif", "Times New Roman", serif' font-size="6.9" font-weight="bold" fill="#262626" stroke="#262626" stroke-width="0.18">mCpG</text>
<rect x="520.7" y="35.35" width="2.8" height="2.8" fill="#cc0000"/>
<text x="525.0" y="39.05" font-family='"Liberation Serif", "Times New Roman", serif' font-size="6.9" font-weight="bold" fill="#262626" stroke="#262626" stroke-width="0.18">mCHG</text>
<rect x="520.7" y="44.1" width="2.8" height="2.8" fill="#ffc000"/>
<text x="525.0" y="47.8" font-family='"Liberation Serif", "Times New Roman", serif' font-size="6.9" font-weight="bold" fill="#262626" stroke="#262626" stroke-width="0.18">mCHH</text>
<rect x="520.7" y="52.8" width="2.8" height="2.8" fill="#73ae49"/>
<text x="525.0" y="56.5" font-family='"Liberation Serif", "Times New Roman", serif' font-size="6.9" font-weight="bold" fill="#262626" stroke="#262626" stroke-width="0.18">mCU</text>
<text x="108.6" y="187.8" font-family='"Liberation Sans", Arial, sans-serif' font-size="13.8" fill="#111" stroke="#111" stroke-width="0.55" transform="translate(108.6 0) scale(0.83 1) translate(-108.6 0)">HYP</text>
<text x="399.2" y="190.7" font-family='"Liberation Sans", Arial, sans-serif' font-size="13.8" fill="#111" stroke="#111" stroke-width="0.55" transform="translate(399.2 0) scale(0.92 1) translate(-399.2 0)">LYP</text>
<rect x="34.5" y="228.5" width="146.8" height="222.7" fill="#ebebeb"/>
<line x1="34.5" x2="181.3" y1="409" y2="409" stroke="#fff" stroke-width="0.55"/>
<line x1="34.5" x2="181.3" y1="344.8" y2="344.8" stroke="#fff" stroke-width="0.55"/>
<line x1="34.5" x2="181.3" y1="280.6" y2="280.6" stroke="#fff" stroke-width="0.55"/>
<line x1="34.5" x2="181.3" y1="441.1" y2="441.1" stroke="#fff" stroke-width="1.1"/>
<line x1="34.5" x2="181.3" y1="376.9" y2="376.9" stroke="#fff" stroke-width="1.1"/>
<line x1="34.5" x2="181.3" y1="312.7" y2="312.7" stroke="#fff" stroke-width="1.1"/>
<line x1="34.5" x2="181.3" y1="248.5" y2="248.5" stroke="#fff" stroke-width="1.1"/>
<line x1="61.6" x2="61.6" y1="228.5" y2="451.2" stroke="#fff" stroke-width="1.1"/>
<line x1="107.6" x2="107.6" y1="228.5" y2="451.2" stroke="#fff" stroke-width="1.1"/>
<line x1="153.6" x2="153.6" y1="228.5" y2="451.2" stroke="#fff" stroke-width="1.1"/>
<rect x="40.99" y="239.99" width="6.92" height="201.11" fill="#F8766D"/>
<rect x="47.86" y="240.15" width="6.92" height="200.95" fill="#B79F00"/>
<rect x="54.73" y="239.99" width="6.92" height="201.11" fill="#00BA38"/>
<rect x="61.6" y="242.08" width="6.92" height="199.02" fill="#00BFC4"/>
<rect x="68.47" y="240.15" width="6.92" height="200.95" fill="#619CFF"/>
<rect x="75.34" y="239.19" width="6.92" height="201.91" fill="#F564E3"/>
<rect x="86.99" y="439.33" width="6.92" height="1.77" fill="#F8766D"/>
<rect x="93.86" y="439.33" width="6.92" height="1.77" fill="#B79F00"/>
<rect x="100.73" y="439.33" width="6.92" height="1.77" fill="#00BA38"/>
<rect x="107.6" y="439.33" width="6.92" height="1.77" fill="#00BFC4"/>
<rect x="114.47" y="439.33" width="6.92" height="1.77" fill="#619CFF"/>
<rect x="121.34" y="439.33" width="6.92" height="1.77" fill="#F564E3"/>
<rect x="132.99" y="439.43" width="6.92" height="1.67" fill="#F8766D"/>
<rect x="139.86" y="439.43" width="6.92" height="1.67" fill="#B79F00"/>
<rect x="146.73" y="439.43" width="6.92" height="1.67" fill="#00BA38"/>
<rect x="153.6" y="439.43" width="6.92" height="1.67" fill="#00BFC4"/>
<rect x="160.47" y="439.43" width="6.92" height="1.67" fill="#619CFF"/>
<rect x="167.34" y="439.43" width="6.92" height="1.67" fill="#F564E3"/>
<line x1="31.8" x2="34.5" y1="441.1" y2="441.1" stroke="#333" stroke-width="0.8"/>
<text x="30.3" y="443.9" text-anchor="end" font-family='"Liberation Sans", Arial, sans-serif' font-size="7.8" fill="#404040" stroke="#404040" stroke-width="0.12">0.0</text>
<line x1="31.8" x2="34.5" y1="376.9" y2="376.9" stroke="#333" stroke-width="0.8"/>
<text x="30.3" y="379.7" text-anchor="end" font-family='"Liberation Sans", Arial, sans-serif' font-size="7.8" fill="#404040" stroke="#404040" stroke-width="0.12">0.2</text>
<line x1="31.8" x2="34.5" y1="312.7" y2="312.7" stroke="#333" stroke-width="0.8"/>
<text x="30.3" y="315.5" text-anchor="end" font-family='"Liberation Sans", Arial, sans-serif' font-size="7.8" fill="#404040" stroke="#404040" stroke-width="0.12">0.4</text>
<line x1="31.8" x2="34.5" y1="248.5" y2="248.5" stroke="#333" stroke-width="0.8"/>
<text x="30.3" y="251.3" text-anchor="end" font-family='"Liberation Sans", Arial, sans-serif' font-size="7.8" fill="#404040" stroke="#404040" stroke-width="0.12">0.6</text>
<line x1="61.6" x2="61.6" y1="451.2" y2="453.9" stroke="#333" stroke-width="0.8"/>
<text x="60.65" y="466.4" text-anchor="middle" textLength="20.0" lengthAdjust="spacingAndGlyphs" font-family='"Liberation Serif", "Times New Roman", serif' font-size="11" fill="#222" stroke="#222" stroke-width="0.2">CpG</text>
<line x1="107.6" x2="107.6" y1="451.2" y2="453.9" stroke="#333" stroke-width="0.8"/>
<text x="107.1" y="466.4" text-anchor="middle" textLength="22.2" lengthAdjust="spacingAndGlyphs" font-family='"Liberation Serif", "Times New Roman", serif' font-size="11" fill="#222" stroke="#222" stroke-width="0.2">CHG</text>
<line x1="153.6" x2="153.6" y1="451.2" y2="453.9" stroke="#333" stroke-width="0.8"/>
<text x="154.85" y="466.4" text-anchor="middle" textLength="21.9" lengthAdjust="spacingAndGlyphs" font-family='"Liberation Serif", "Times New Roman", serif' font-size="11" fill="#222" stroke="#222" stroke-width="0.2">CHH</text>
<text transform="translate(16.6 339.6) rotate(-90)" text-anchor="middle" font-family='"Liberation Sans", Arial, sans-serif' font-size="9.8" fill="#111" stroke="#111" stroke-width="0.2">Methylation level</text>
<rect x="195" y="300.8" width="13.9" height="14" fill="#F8766D"/>
<text x="213.8" y="311.2" font-family='"Liberation Serif", "Times New Roman", serif' font-size="8" fill="#1a1a1a" stroke="#1a1a1a" stroke-width="0.1">1HPP</text>
<rect x="195" y="316.45" width="13.9" height="14" fill="#B79F00"/>
<text x="213.8" y="326.85" font-family='"Liberation Serif", "Times New Roman", serif' font-size="8" fill="#1a1a1a" stroke="#1a1a1a" stroke-width="0.1">2HPP</text>
<rect x="195" y="332.1" width="13.9" height="14" fill="#00BA38"/>
<text x="213.8" y="342.5" font-family='"Liberation Serif", "Times New Roman", serif' font-size="8" fill="#1a1a1a" stroke="#1a1a1a" stroke-width="0.1">3HPP</text>
<rect x="195" y="347.75" width="13.9" height="14" fill="#00BFC4"/>
<text x="213.8" y="358.15" font-family='"Liberation Serif", "Times New Roman", serif' font-size="8" fill="#1a1a1a" stroke="#1a1a1a" stroke-width="0.1">4LPP</text>
<rect x="195" y="363.4" width="13.9" height="14" fill="#619CFF"/>
<text x="213.8" y="373.8" font-family='"Liberation Serif", "Times New Roman", serif' font-size="8" fill="#1a1a1a" stroke="#1a1a1a" stroke-width="0.1">5LPP</text>
<rect x="195" y="379.05" width="13.9" height="14" fill="#F564E3"/>
<text x="213.8" y="389.45" font-family='"Liberation Serif", "Times New Roman", serif' font-size="8" fill="#1a1a1a" stroke="#1a1a1a" stroke-width="0.1">6LPP</text>
<rect x="510.8" y="247.8" width="15.8" height="61.7" fill="#d4d4d4"/>
<rect x="314.8" y="247.8" width="29.0" height="61.7" fill="#ebebeb"/>
<line x1="314.8" x2="343.8" y1="301.01" y2="301.01" stroke="#fff" stroke-width="0.7"/>
<line x1="314.8" x2="343.8" y1="289.43" y2="289.43" stroke="#fff" stroke-width="0.7"/>
<line x1="314.8" x2="343.8" y1="277.85" y2="277.85" stroke="#fff" stroke-width="0.7"/>
<line x1="314.8" x2="343.8" y1="266.27" y2="266.27" stroke="#fff" stroke-width="0.7"/>
<line x1="314.8" x2="343.8" y1="254.69" y2="254.69" stroke="#fff" stroke-width="0.7"/>
<line x1="319.41" x2="319.41" y1="247.8" y2="309.5" stroke="#fff" stroke-width="0.7"/>
<line x1="326" x2="326" y1="247.8" y2="309.5" stroke="#fff" stroke-width="0.7"/>
<line x1="332.6" x2="332.6" y1="247.8" y2="309.5" stroke="#fff" stroke-width="0.7"/>
<line x1="339.19" x2="339.19" y1="247.8" y2="309.5" stroke="#fff" stroke-width="0.7"/>
<line x1="314.8" x2="343.8" y1="306.8" y2="306.8" stroke="#fff" stroke-width="1.3"/>
<line x1="314.8" x2="343.8" y1="295.22" y2="295.22" stroke="#fff" stroke-width="1.3"/>
<line x1="314.8" x2="343.8" y1="283.64" y2="283.64" stroke="#fff" stroke-width="1.3"/>
<line x1="314.8" x2="343.8" y1="272.06" y2="272.06" stroke="#fff" stroke-width="1.3"/>
<line x1="314.8" x2="343.8" y1="260.48" y2="260.48" stroke="#fff" stroke-width="1.3"/>
<line x1="314.8" x2="343.8" y1="248.9" y2="248.9" stroke="#fff" stroke-width="1.3"/>
<line x1="316.12" x2="316.12" y1="247.8" y2="309.5" stroke="#fff" stroke-width="1.3"/>
<line x1="322.71" x2="322.71" y1="247.8" y2="309.5" stroke="#fff" stroke-width="1.3"/>
<line x1="329.3" x2="329.3" y1="247.8" y2="309.5" stroke="#fff" stroke-width="1.3"/>
<line x1="335.89" x2="335.89" y1="247.8" y2="309.5" stroke="#fff" stroke-width="1.3"/>
<line x1="342.48" x2="342.48" y1="247.8" y2="309.5" stroke="#fff" stroke-width="1.3"/>
<rect x="316.12" y="283.87" width="2.64" height="22.93" fill="#F8766D"/>
<rect x="318.75" y="298.69" width="2.64" height="8.11" fill="#F8766D"/>
<rect x="321.39" y="294.06" width="2.64" height="12.74" fill="#F8766D"/>
<rect x="324.03" y="297.3" width="2.64" height="9.5" fill="#F8766D"/>
<rect x="326.66" y="292.21" width="2.64" height="14.59" fill="#F8766D"/>
<rect x="329.3" y="279.01" width="2.64" height="27.79" fill="#F8766D"/>
<rect x="331.94" y="288.27" width="2.64" height="18.53" fill="#F8766D"/>
<rect x="334.57" y="288.97" width="2.64" height="17.83" fill="#F8766D"/>
<rect x="337.21" y="262.8" width="2.64" height="44" fill="#F8766D"/>
<rect x="339.85" y="252.84" width="2.64" height="53.96" fill="#F8766D"/>
<rect x="348.2" y="247.8" width="29.0" height="61.7" fill="#ebebeb"/>
<line x1="348.2" x2="377.2" y1="301.01" y2="301.01" stroke="#fff" stroke-width="0.7"/>
<line x1="348.2" x2="377.2" y1="289.43" y2="289.43" stroke="#fff" stroke-width="0.7"/>
<line x1="348.2" x2="377.2" y1="277.85" y2="277.85" stroke="#fff" stroke-width="0.7"/>
<line x1="348.2" x2="377.2" y1="266.27" y2="266.27" stroke="#fff" stroke-width="0.7"/>
<line x1="348.2" x2="377.2" y1="254.69" y2="254.69" stroke="#fff" stroke-width="0.7"/>
<line x1="352.81" x2="352.81" y1="247.8" y2="309.5" stroke="#fff" stroke-width="0.7"/>
<line x1="359.4" x2="359.4" y1="247.8" y2="309.5" stroke="#fff" stroke-width="0.7"/>
<line x1="366" x2="366" y1="247.8" y2="309.5" stroke="#fff" stroke-width="0.7"/>
<line x1="372.59" x2="372.59" y1="247.8" y2="309.5" stroke="#fff" stroke-width="0.7"/>
<line x1="348.2" x2="377.2" y1="306.8" y2="306.8" stroke="#fff" stroke-width="1.3"/>
<line x1="348.2" x2="377.2" y1="295.22" y2="295.22" stroke="#fff" stroke-width="1.3"/>
<line x1="348.2" x2="377.2" y1="283.64" y2="283.64" stroke="#fff" stroke-width="1.3"/>
<line x1="348.2" x2="377.2" y1="272.06" y2="272.06" stroke="#fff" stroke-width="1.3"/>
<line x1="348.2" x2="377.2" y1="260.48" y2="260.48" stroke="#fff" stroke-width="1.3"/>
<line x1="348.2" x2="377.2" y1="248.9" y2="248.9" stroke="#fff" stroke-width="1.3"/>
<line x1="349.52" x2="349.52" y1="247.8" y2="309.5" stroke="#fff" stroke-width="1.3"/>
<line x1="356.11" x2="356.11" y1="247.8" y2="309.5" stroke="#fff" stroke-width="1.3"/>
<line x1="362.7" x2="362.7" y1="247.8" y2="309.5" stroke="#fff" stroke-width="1.3"/>
<line x1="369.29" x2="369.29" y1="247.8" y2="309.5" stroke="#fff" stroke-width="1.3"/>
<line x1="375.88" x2="375.88" y1="247.8" y2="309.5" stroke="#fff" stroke-width="1.3"/>
<rect x="349.52" y="285.96" width="2.64" height="20.84" fill="#F8766D"/>
<rect x="352.15" y="298.46" width="2.64" height="8.34" fill="#F8766D"/>
<rect x="354.79" y="293.83" width="2.64" height="12.97" fill="#F8766D"/>
<rect x="357.43" y="296.84" width="2.64" height="9.96" fill="#F8766D"/>
<rect x="360.06" y="292.21" width="2.64" height="14.59" fill="#F8766D"/>
<rect x="362.7" y="278.78" width="2.64" height="28.02" fill="#F8766D"/>
<rect x="365.34" y="286.42" width="2.64" height="20.38" fill="#F8766D"/>
<rect x="367.97" y="286.88" width="2.64" height="19.92" fill="#F8766D"/>
<rect x="370.61" y="263.03" width="2.64" height="43.77" fill="#F8766D"/>
<rect x="373.25" y="256.31" width="2.64" height="50.49" fill="#F8766D"/>
<rect x="381.6" y="247.8" width="29.0" height="61.7" fill="#ebebeb"/>
<line x1="381.6" x2="410.6" y1="301.01" y2="301.01" stroke="#fff" stroke-width="0.7"/>
<line x1="381.6" x2="410.6" y1="289.43" y2="289.43" stroke="#fff" stroke-width="0.7"/>
<line x1="381.6" x2="410.6" y1="277.85" y2="277.85" stroke="#fff" stroke-width="0.7"/>
<line x1="381.6" x2="410.6" y1="266.27" y2="266.27" stroke="#fff" stroke-width="0.7"/>
<line x1="381.6" x2="410.6" y1="254.69" y2="254.69" stroke="#fff" stroke-width="0.7"/>
<line x1="386.21" x2="386.21" y1="247.8" y2="309.5" stroke="#fff" stroke-width="0.7"/>
<line x1="392.8" x2="392.8" y1="247.8" y2="309.5" stroke="#fff" stroke-width="0.7"/>
<line x1="399.4" x2="399.4" y1="247.8" y2="309.5" stroke="#fff" stroke-width="0.7"/>
<line x1="405.99" x2="405.99" y1="247.8" y2="309.5" stroke="#fff" stroke-width="0.7"/>
<line x1="381.6" x2="410.6" y1="306.8" y2="306.8" stroke="#fff" stroke-width="1.3"/>
<line x1="381.6" x2="410.6" y1="295.22" y2="295.22" stroke="#fff" stroke-width="1.3"/>
<line x1="381.6" x2="410.6" y1="283.64" y2="283.64" stroke="#fff" stroke-width="1.3"/>
<line x1="381.6" x2="410.6" y1="272.06" y2="272.06" stroke="#fff" stroke-width="1.3"/>
<line x1="381.6" x2="410.6" y1="260.48" y2="260.48" stroke="#fff" stroke-width="1.3"/>
<line x1="381.6" x2="410.6" y1="248.9" y2="248.9" stroke="#fff" stroke-width="1.3"/>
<line x1="382.92" x2="382.92" y1="247.8" y2="309.5" stroke="#fff" stroke-width="1.3"/>
<line x1="389.51" x2="389.51" y1="247.8" y2="309.5" stroke="#fff" stroke-width="1.3"/>
<line x1="396.1" x2="396.1" y1="247.8" y2="309.5" stroke="#fff" stroke-width="1.3"/>
<line x1="402.69" x2="402.69" y1="247.8" y2="309.5" stroke="#fff" stroke-width="1.3"/>
<line x1="409.28" x2="409.28" y1="247.8" y2="309.5" stroke="#fff" stroke-width="1.3"/>
<rect x="382.92" y="283.18" width="2.64" height="23.62" fill="#F8766D"/>
<rect x="385.55" y="298" width="2.64" height="8.8" fill="#F8766D"/>
<rect x="388.19" y="293.83" width="2.64" height="12.97" fill="#F8766D"/>
<rect x="390.83" y="297.3" width="2.64" height="9.5" fill="#F8766D"/>
<rect x="393.46" y="292.9" width="2.64" height="13.9" fill="#F8766D"/>
<rect x="396.1" y="280.86" width="2.64" height="25.94" fill="#F8766D"/>
<rect x="398.74" y="288.74" width="2.64" height="18.06" fill="#F8766D"/>
<rect x="401.37" y="288.74" width="2.64" height="18.06" fill="#F8766D"/>
<rect x="404.01" y="263.72" width="2.64" height="43.08" fill="#F8766D"/>
<rect x="406.65" y="251.22" width="2.64" height="55.58" fill="#F8766D"/>
<rect x="415" y="247.8" width="29.0" height="61.7" fill="#ebebeb"/>
<line x1="415" x2="444" y1="301.01" y2="301.01" stroke="#fff" stroke-width="0.7"/>
<line x1="415" x2="444" y1="289.43" y2="289.43" stroke="#fff" stroke-width="0.7"/>
<line x1="415" x2="444" y1="277.85" y2="277.85" stroke="#fff" stroke-width="0.7"/>
<line x1="415" x2="444" y1="266.27" y2="266.27" stroke="#fff" stroke-width="0.7"/>
<line x1="415" x2="444" y1="254.69" y2="254.69" stroke="#fff" stroke-width="0.7"/>
<line x1="419.61" x2="419.61" y1="247.8" y2="309.5" stroke="#fff" stroke-width="0.7"/>
<line x1="426.2" x2="426.2" y1="247.8" y2="309.5" stroke="#fff" stroke-width="0.7"/>
<line x1="432.8" x2="432.8" y1="247.8" y2="309.5" stroke="#fff" stroke-width="0.7"/>
<line x1="439.39" x2="439.39" y1="247.8" y2="309.5" stroke="#fff" stroke-width="0.7"/>
<line x1="415" x2="444" y1="306.8" y2="306.8" stroke="#fff" stroke-width="1.3"/>
<line x1="415" x2="444" y1="295.22" y2="295.22" stroke="#fff" stroke-width="1.3"/>
<line x1="415" x2="444" y1="283.64" y2="283.64" stroke="#fff" stroke-width="1.3"/>
<line x1="415" x2="444" y1="272.06" y2="272.06" stroke="#fff" stroke-width="1.3"/>
<line x1="415" x2="444" y1="260.48" y2="260.48" stroke="#fff" stroke-width="1.3"/>
<line x1="415" x2="444" y1="248.9" y2="248.9" stroke="#fff" stroke-width="1.3"/>
<line x1="416.32" x2="416.32" y1="247.8" y2="309.5" stroke="#fff" stroke-width="1.3"/>
<line x1="422.91" x2="422.91" y1="247.8" y2="309.5" stroke="#fff" stroke-width="1.3"/>
<line x1="429.5" x2="429.5" y1="247.8" y2="309.5" stroke="#fff" stroke-width="1.3"/>
<line x1="436.09" x2="436.09" y1="247.8" y2="309.5" stroke="#fff" stroke-width="1.3"/>
<line x1="442.68" x2="442.68" y1="247.8" y2="309.5" stroke="#fff" stroke-width="1.3"/>
<rect x="416.32" y="284.1" width="2.64" height="22.7" fill="#F8766D"/>
<rect x="418.95" y="298.46" width="2.64" height="8.34" fill="#F8766D"/>
<rect x="421.59" y="293.83" width="2.64" height="12.97" fill="#F8766D"/>
<rect x="424.23" y="297.77" width="2.64" height="9.03" fill="#F8766D"/>
<rect x="426.86" y="291.98" width="2.64" height="14.82" fill="#F8766D"/>
<rect x="429.5" y="277.85" width="2.64" height="28.95" fill="#F8766D"/>
<rect x="432.14" y="288.97" width="2.64" height="17.83" fill="#F8766D"/>
<rect x="434.77" y="290.12" width="2.64" height="16.68" fill="#F8766D"/>
<rect x="437.41" y="261.64" width="2.64" height="45.16" fill="#F8766D"/>
<rect x="440.05" y="254" width="2.64" height="52.8" fill="#F8766D"/>
<rect x="448.4" y="247.8" width="29.0" height="61.7" fill="#ebebeb"/>
<line x1="448.4" x2="477.4" y1="301.01" y2="301.01" stroke="#fff" stroke-width="0.7"/>
<line x1="448.4" x2="477.4" y1="289.43" y2="289.43" stroke="#fff" stroke-width="0.7"/>
<line x1="448.4" x2="477.4" y1="277.85" y2="277.85" stroke="#fff" stroke-width="0.7"/>
<line x1="448.4" x2="477.4" y1="266.27" y2="266.27" stroke="#fff" stroke-width="0.7"/>
<line x1="448.4" x2="477.4" y1="254.69" y2="254.69" stroke="#fff" stroke-width="0.7"/>
<line x1="453.01" x2="453.01" y1="247.8" y2="309.5" stroke="#fff" stroke-width="0.7"/>
<line x1="459.6" x2="459.6" y1="247.8" y2="309.5" stroke="#fff" stroke-width="0.7"/>
<line x1="466.2" x2="466.2" y1="247.8" y2="309.5" stroke="#fff" stroke-width="0.7"/>
<line x1="472.79" x2="472.79" y1="247.8" y2="309.5" stroke="#fff" stroke-width="0.7"/>
<line x1="448.4" x2="477.4" y1="306.8" y2="306.8" stroke="#fff" stroke-width="1.3"/>
<line x1="448.4" x2="477.4" y1="295.22" y2="295.22" stroke="#fff" stroke-width="1.3"/>
<line x1="448.4" x2="477.4" y1="283.64" y2="283.64" stroke="#fff" stroke-width="1.3"/>
<line x1="448.4" x2="477.4" y1="272.06" y2="272.06" stroke="#fff" stroke-width="1.3"/>
<line x1="448.4" x2="477.4" y1="260.48" y2="260.48" stroke="#fff" stroke-width="1.3"/>
<line x1="448.4" x2="477.4" y1="248.9" y2="248.9" stroke="#fff" stroke-width="1.3"/>
<line x1="449.72" x2="449.72" y1="247.8" y2="309.5" stroke="#fff" stroke-width="1.3"/>
<line x1="456.31" x2="456.31" y1="247.8" y2="309.5" stroke="#fff" stroke-width="1.3"/>
<line x1="462.9" x2="462.9" y1="247.8" y2="309.5" stroke="#fff" stroke-width="1.3"/>
<line x1="469.49" x2="469.49" y1="247.8" y2="309.5" stroke="#fff" stroke-width="1.3"/>
<line x1="476.08" x2="476.08" y1="247.8" y2="309.5" stroke="#fff" stroke-width="1.3"/>
<rect x="449.72" y="284.1" width="2.64" height="22.7" fill="#F8766D"/>
<rect x="452.35" y="298.46" width="2.64" height="8.34" fill="#F8766D"/>
<rect x="454.99" y="294.53" width="2.64" height="12.27" fill="#F8766D"/>
<rect x="457.63" y="297.3" width="2.64" height="9.5" fill="#F8766D"/>
<rect x="460.26" y="292.9" width="2.64" height="13.9" fill="#F8766D"/>
<rect x="462.9" y="279.93" width="2.64" height="26.87" fill="#F8766D"/>
<rect x="465.54" y="287.35" width="2.64" height="19.45" fill="#F8766D"/>
<rect x="468.17" y="286.88" width="2.64" height="19.92" fill="#F8766D"/>
<rect x="470.81" y="263.03" width="2.64" height="43.77" fill="#F8766D"/>
<rect x="473.45" y="254.69" width="2.64" height="52.11" fill="#F8766D"/>
<rect x="481.8" y="247.8" width="29.0" height="61.7" fill="#ebebeb"/>
<line x1="481.8" x2="510.8" y1="301.01" y2="301.01" stroke="#fff" stroke-width="0.7"/>
<line x1="481.8" x2="510.8" y1="289.43" y2="289.43" stroke="#fff" stroke-width="0.7"/>
<line x1="481.8" x2="510.8" y1="277.85" y2="277.85" stroke="#fff" stroke-width="0.7"/>
<line x1="481.8" x2="510.8" y1="266.27" y2="266.27" stroke="#fff" stroke-width="0.7"/>
<line x1="481.8" x2="510.8" y1="254.69" y2="254.69" stroke="#fff" stroke-width="0.7"/>
<line x1="486.41" x2="486.41" y1="247.8" y2="309.5" stroke="#fff" stroke-width="0.7"/>
<line x1="493" x2="493" y1="247.8" y2="309.5" stroke="#fff" stroke-width="0.7"/>
<line x1="499.6" x2="499.6" y1="247.8" y2="309.5" stroke="#fff" stroke-width="0.7"/>
<line x1="506.19" x2="506.19" y1="247.8" y2="309.5" stroke="#fff" stroke-width="0.7"/>
<line x1="481.8" x2="510.8" y1="306.8" y2="306.8" stroke="#fff" stroke-width="1.3"/>
<line x1="481.8" x2="510.8" y1="295.22" y2="295.22" stroke="#fff" stroke-width="1.3"/>
<line x1="481.8" x2="510.8" y1="283.64" y2="283.64" stroke="#fff" stroke-width="1.3"/>
<line x1="481.8" x2="510.8" y1="272.06" y2="272.06" stroke="#fff" stroke-width="1.3"/>
<line x1="481.8" x2="510.8" y1="260.48" y2="260.48" stroke="#fff" stroke-width="1.3"/>
<line x1="481.8" x2="510.8" y1="248.9" y2="248.9" stroke="#fff" stroke-width="1.3"/>
<line x1="483.12" x2="483.12" y1="247.8" y2="309.5" stroke="#fff" stroke-width="1.3"/>
<line x1="489.71" x2="489.71" y1="247.8" y2="309.5" stroke="#fff" stroke-width="1.3"/>
<line x1="496.3" x2="496.3" y1="247.8" y2="309.5" stroke="#fff" stroke-width="1.3"/>
<line x1="502.89" x2="502.89" y1="247.8" y2="309.5" stroke="#fff" stroke-width="1.3"/>
<line x1="509.48" x2="509.48" y1="247.8" y2="309.5" stroke="#fff" stroke-width="1.3"/>
<rect x="483.12" y="285.03" width="2.64" height="21.77" fill="#F8766D"/>
<rect x="485.75" y="299.16" width="2.64" height="7.64" fill="#F8766D"/>
<rect x="488.39" y="293.83" width="2.64" height="12.97" fill="#F8766D"/>
<rect x="491.03" y="297.54" width="2.64" height="9.26" fill="#F8766D"/>
<rect x="493.66" y="292.21" width="2.64" height="14.59" fill="#F8766D"/>
<rect x="496.3" y="277.62" width="2.64" height="29.18" fill="#F8766D"/>
<rect x="498.94" y="288.5" width="2.64" height="18.3" fill="#F8766D"/>
<rect x="501.57" y="289.43" width="2.64" height="17.37" fill="#F8766D"/>
<rect x="504.21" y="261.41" width="2.64" height="45.39" fill="#F8766D"/>
<rect x="506.85" y="253.3" width="2.64" height="53.5" fill="#F8766D"/>
<line x1="311.9" x2="314.8" y1="306.8" y2="306.8" stroke="#333" stroke-width="0.8"/>
<text x="310.7" y="309.8" text-anchor="end" font-family='"Liberation Sans", Arial, sans-serif' font-size="8.3" fill="#404040" stroke="#404040" stroke-width="0.15">0</text>
<line x1="311.9" x2="314.8" y1="295.22" y2="295.22" stroke="#333" stroke-width="0.8"/>
<text x="310.7" y="298.22" text-anchor="end" font-family='"Liberation Sans", Arial, sans-serif' font-size="8.3" fill="#404040" stroke="#404040" stroke-width="0.15">5</text>
<line x1="311.9" x2="314.8" y1="283.64" y2="283.64" stroke="#333" stroke-width="0.8"/>
<text x="310.7" y="286.64" text-anchor="end" font-family='"Liberation Sans", Arial, sans-serif' font-size="8.3" fill="#404040" stroke="#404040" stroke-width="0.15">10</text>
<line x1="311.9" x2="314.8" y1="272.06" y2="272.06" stroke="#333" stroke-width="0.8"/>
<text x="310.7" y="275.06" text-anchor="end" font-family='"Liberation Sans", Arial, sans-serif' font-size="8.3" fill="#404040" stroke="#404040" stroke-width="0.15">15</text>
<line x1="311.9" x2="314.8" y1="260.48" y2="260.48" stroke="#333" stroke-width="0.8"/>
<text x="310.7" y="263.48" text-anchor="end" font-family='"Liberation Sans", Arial, sans-serif' font-size="8.3" fill="#404040" stroke="#404040" stroke-width="0.15">20</text>
<line x1="311.9" x2="314.8" y1="248.9" y2="248.9" stroke="#333" stroke-width="0.8"/>
<text x="310.7" y="251.9" text-anchor="end" font-family='"Liberation Sans", Arial, sans-serif' font-size="8.3" fill="#404040" stroke="#404040" stroke-width="0.15">25</text>
<text transform="translate(515.6 278.65) rotate(90)" text-anchor="middle" font-family='"Liberation Serif", "Times New Roman", serif' font-size="9" fill="#1a1a1a" stroke="#1a1a1a" stroke-width="0.12">CpG</text>
<rect x="510.8" y="313.5" width="15.8" height="61.9" fill="#d4d4d4"/>
<rect x="314.8" y="313.5" width="29.0" height="61.9" fill="#ebebeb"/>
<line x1="314.8" x2="343.8" y1="365.82" y2="365.82" stroke="#fff" stroke-width="0.7"/>
<line x1="314.8" x2="343.8" y1="351.48" y2="351.48" stroke="#fff" stroke-width="0.7"/>
<line x1="314.8" x2="343.8" y1="337.12" y2="337.12" stroke="#fff" stroke-width="0.7"/>
<line x1="314.8" x2="343.8" y1="322.77" y2="322.77" stroke="#fff" stroke-width="0.7"/>
<line x1="319.41" x2="319.41" y1="313.5" y2="375.4" stroke="#fff" stroke-width="0.7"/>
<line x1="326" x2="326" y1="313.5" y2="375.4" stroke="#fff" stroke-width="0.7"/>
<line x1="332.6" x2="332.6" y1="313.5" y2="375.4" stroke="#fff" stroke-width="0.7"/>
<line x1="339.19" x2="339.19" y1="313.5" y2="375.4" stroke="#fff" stroke-width="0.7"/>
<line x1="314.8" x2="343.8" y1="373" y2="373" stroke="#fff" stroke-width="1.3"/>
<line x1="314.8" x2="343.8" y1="358.65" y2="358.65" stroke="#fff" stroke-width="1.3"/>
<line x1="314.8" x2="343.8" y1="344.3" y2="344.3" stroke="#fff" stroke-width="1.3"/>
<line x1="314.8" x2="343.8" y1="329.95" y2="329.95" stroke="#fff" stroke-width="1.3"/>
<line x1="314.8" x2="343.8" y1="315.6" y2="315.6" stroke="#fff" stroke-width="1.3"/>
<line x1="316.12" x2="316.12" y1="313.5" y2="375.4" stroke="#fff" stroke-width="1.3"/>
<line x1="322.71" x2="322.71" y1="313.5" y2="375.4" stroke="#fff" stroke-width="1.3"/>
<line x1="329.3" x2="329.3" y1="313.5" y2="375.4" stroke="#fff" stroke-width="1.3"/>
<line x1="335.89" x2="335.89" y1="313.5" y2="375.4" stroke="#fff" stroke-width="1.3"/>
<line x1="342.48" x2="342.48" y1="313.5" y2="375.4" stroke="#fff" stroke-width="1.3"/>
<rect x="316.12" y="317.9" width="2.64" height="55.1" fill="#00BA38"/>
<rect x="318.75" y="371.74" width="2.64" height="1.26" fill="#00BA38"/>
<rect x="321.39" y="372.91" width="2.64" height="0.09" fill="#00BA38"/>
<rect x="324.03" y="372.91" width="2.64" height="0.09" fill="#00BA38"/>
<rect x="326.66" y="372.91" width="2.64" height="0.09" fill="#00BA38"/>
<rect x="329.3" y="372.91" width="2.64" height="0.09" fill="#00BA38"/>
<rect x="331.94" y="372.91" width="2.64" height="0.09" fill="#00BA38"/>
<rect x="334.57" y="372.91" width="2.64" height="0.09" fill="#00BA38"/>
<rect x="337.21" y="372.91" width="2.64" height="0.09" fill="#00BA38"/>
<rect x="339.85" y="372.91" width="2.64" height="0.09" fill="#00BA38"/>
<rect x="348.2" y="313.5" width="29.0" height="61.9" fill="#ebebeb"/>
<line x1="348.2" x2="377.2" y1="365.82" y2="365.82" stroke="#fff" stroke-width="0.7"/>
<line x1="348.2" x2="377.2" y1="351.48" y2="351.48" stroke="#fff" stroke-width="0.7"/>
<line x1="348.2" x2="377.2" y1="337.12" y2="337.12" stroke="#fff" stroke-width="0.7"/>
<line x1="348.2" x2="377.2" y1="322.77" y2="322.77" stroke="#fff" stroke-width="0.7"/>
<line x1="352.81" x2="352.81" y1="313.5" y2="375.4" stroke="#fff" stroke-width="0.7"/>
<line x1="359.4" x2="359.4" y1="313.5" y2="375.4" stroke="#fff" stroke-width="0.7"/>
<line x1="366" x2="366" y1="313.5" y2="375.4" stroke="#fff" stroke-width="0.7"/>
<line x1="372.59" x2="372.59" y1="313.5" y2="375.4" stroke="#fff" stroke-width="0.7"/>
<line x1="348.2" x2="377.2" y1="373" y2="373" stroke="#fff" stroke-width="1.3"/>
<line x1="348.2" x2="377.2" y1="358.65" y2="358.65" stroke="#fff" stroke-width="1.3"/>
<line x1="348.2" x2="377.2" y1="344.3" y2="344.3" stroke="#fff" stroke-width="1.3"/>
<line x1="348.2" x2="377.2" y1="329.95" y2="329.95" stroke="#fff" stroke-width="1.3"/>
<line x1="348.2" x2="377.2" y1="315.6" y2="315.6" stroke="#fff" stroke-width="1.3"/>
<line x1="349.52" x2="349.52" y1="313.5" y2="375.4" stroke="#fff" stroke-width="1.3"/>
<line x1="356.11" x2="356.11" y1="313.5" y2="375.4" stroke="#fff" stroke-width="1.3"/>
<line x1="362.7" x2="362.7" y1="313.5" y2="375.4" stroke="#fff" stroke-width="1.3"/>
<line x1="369.29" x2="369.29" y1="313.5" y2="375.4" stroke="#fff" stroke-width="1.3"/>
<line x1="375.88" x2="375.88" y1="313.5" y2="375.4" stroke="#fff" stroke-width="1.3"/>
<rect x="349.52" y="317.9" width="2.64" height="55.1" fill="#00BA38"/>
<rect x="352.15" y="371.74" width="2.64" height="1.26" fill="#00BA38"/>
<rect x="354.79" y="372.91" width="2.64" height="0.09" fill="#00BA38"/>
<rect x="357.43" y="372.91" width="2.64" height="0.09" fill="#00BA38"/>
<rect x="360.06" y="372.91" width="2.64" height="0.09" fill="#00BA38"/>
<rect x="362.7" y="372.91" width="2.64" height="0.09" fill="#00BA38"/>
<rect x="365.34" y="372.91" width="2.64" height="0.09" fill="#00BA38"/>
<rect x="367.97" y="372.91" width="2.64" height="0.09" fill="#00BA38"/>
<rect x="370.61" y="372.91" width="2.64" height="0.09" fill="#00BA38"/>
<rect x="373.25" y="372.91" width="2.64" height="0.09" fill="#00BA38"/>
<rect x="381.6" y="313.5" width="29.0" height="61.9" fill="#ebebeb"/>
<line x1="381.6" x2="410.6" y1="365.82" y2="365.82" stroke="#fff" stroke-width="0.7"/>
<line x1="381.6" x2="410.6" y1="351.48" y2="351.48" stroke="#fff" stroke-width="0.7"/>
<line x1="381.6" x2="410.6" y1="337.12" y2="337.12" stroke="#fff" stroke-width="0.7"/>
<line x1="381.6" x2="410.6" y1="322.77" y2="322.77" stroke="#fff" stroke-width="0.7"/>
<line x1="386.21" x2="386.21" y1="313.5" y2="375.4" stroke="#fff" stroke-width="0.7"/>
<line x1="392.8" x2="392.8" y1="313.5" y2="375.4" stroke="#fff" stroke-width="0.7"/>
<line x1="399.4" x2="399.4" y1="313.5" y2="375.4" stroke="#fff" stroke-width="0.7"/>
<line x1="405.99" x2="405.99" y1="313.5" y2="375.4" stroke="#fff" stroke-width="0.7"/>
<line x1="381.6" x2="410.6" y1="373" y2="373" stroke="#fff" stroke-width="1.3"/>
<line x1="381.6" x2="410.6" y1="358.65" y2="358.65" stroke="#fff" stroke-width="1.3"/>
<line x1="381.6" x2="410.6" y1="344.3" y2="344.3" stroke="#fff" stroke-width="1.3"/>
<line x1="381.6" x2="410.6" y1="329.95" y2="329.95" stroke="#fff" stroke-width="1.3"/>
<line x1="381.6" x2="410.6" y1="315.6" y2="315.6" stroke="#fff" stroke-width="1.3"/>
<line x1="382.92" x2="382.92" y1="313.5" y2="375.4" stroke="#fff" stroke-width="1.3"/>
<line x1="389.51" x2="389.51" y1="313.5" y2="375.4" stroke="#fff" stroke-width="1.3"/>
<line x1="396.1" x2="396.1" y1="313.5" y2="375.4" stroke="#fff" stroke-width="1.3"/>
<line x1="402.69" x2="402.69" y1="313.5" y2="375.4" stroke="#fff" stroke-width="1.3"/>
<line x1="409.28" x2="409.28" y1="313.5" y2="375.4" stroke="#fff" stroke-width="1.3"/>
<rect x="382.92" y="317.9" width="2.64" height="55.1" fill="#00BA38"/>
<rect x="385.55" y="371.74" width="2.64" height="1.26" fill="#00BA38"/>
<rect x="388.19" y="372.91" width="2.64" height="0.09" fill="#00BA38"/>
<rect x="390.83" y="372.91" width="2.64" height="0.09" fill="#00BA38"/>
<rect x="393.46" y="372.91" width="2.64" height="0.09" fill="#00BA38"/>
<rect x="396.1" y="372.91" width="2.64" height="0.09" fill="#00BA38"/>
<rect x="398.74" y="372.91" width="2.64" height="0.09" fill="#00BA38"/>
<rect x="401.37" y="372.91" width="2.64" height="0.09" fill="#00BA38"/>
<rect x="404.01" y="372.91" width="2.64" height="0.09" fill="#00BA38"/>
<rect x="406.65" y="372.91" width="2.64" height="0.09" fill="#00BA38"/>
<rect x="415" y="313.5" width="29.0" height="61.9" fill="#ebebeb"/>
<line x1="415" x2="444" y1="365.82" y2="365.82" stroke="#fff" stroke-width="0.7"/>
<line x1="415" x2="444" y1="351.48" y2="351.48" stroke="#fff" stroke-width="0.7"/>
<line x1="415" x2="444" y1="337.12" y2="337.12" stroke="#fff" stroke-width="0.7"/>
<line x1="415" x2="444" y1="322.77" y2="322.77" stroke="#fff" stroke-width="0.7"/>
<line x1="419.61" x2="419.61" y1="313.5" y2="375.4" stroke="#fff" stroke-width="0.7"/>
<line x1="426.2" x2="426.2" y1="313.5" y2="375.4" stroke="#fff" stroke-width="0.7"/>
<line x1="432.8" x2="432.8" y1="313.5" y2="375.4" stroke="#fff" stroke-width="0.7"/>
<line x1="439.39" x2="439.39" y1="313.5" y2="375.4" stroke="#fff" stroke-width="0.7"/>
<line x1="415" x2="444" y1="373" y2="373" stroke="#fff" stroke-width="1.3"/>
<line x1="415" x2="444" y1="358.65" y2="358.65" stroke="#fff" stroke-width="1.3"/>
<line x1="415" x2="444" y1="344.3" y2="344.3" stroke="#fff" stroke-width="1.3"/>
<line x1="415" x2="444" y1="329.95" y2="329.95" stroke="#fff" stroke-width="1.3"/>
<line x1="415" x2="444" y1="315.6" y2="315.6" stroke="#fff" stroke-width="1.3"/>
<line x1="416.32" x2="416.32" y1="313.5" y2="375.4" stroke="#fff" stroke-width="1.3"/>
<line x1="422.91" x2="422.91" y1="313.5" y2="375.4" stroke="#fff" stroke-width="1.3"/>
<line x1="429.5" x2="429.5" y1="313.5" y2="375.4" stroke="#fff" stroke-width="1.3"/>
<line x1="436.09" x2="436.09" y1="313.5" y2="375.4" stroke="#fff" stroke-width="1.3"/>
<line x1="442.68" x2="442.68" y1="313.5" y2="375.4" stroke="#fff" stroke-width="1.3"/>
<rect x="416.32" y="317.9" width="2.64" height="55.1" fill="#00BA38"/>
<rect x="418.95" y="371.74" width="2.64" height="1.26" fill="#00BA38"/>
<rect x="421.59" y="372.91" width="2.64" height="0.09" fill="#00BA38"/>
<rect x="424.23" y="372.91" width="2.64" height="0.09" fill="#00BA38"/>
<rect x="426.86" y="372.91" width="2.64" height="0.09" fill="#00BA38"/>
<rect x="429.5" y="372.91" width="2.64" height="0.09" fill="#00BA38"/>
<rect x="432.14" y="372.91" width="2.64" height="0.09" fill="#00BA38"/>
<rect x="434.77" y="372.91" width="2.64" height="0.09" fill="#00BA38"/>
<rect x="437.41" y="372.91" width="2.64" height="0.09" fill="#00BA38"/>
<rect x="440.05" y="372.91" width="2.64" height="0.09" fill="#00BA38"/>
<rect x="448.4" y="313.5" width="29.0" height="61.9" fill="#ebebeb"/>
<line x1="448.4" x2="477.4" y1="365.82" y2="365.82" stroke="#fff" stroke-width="0.7"/>
<line x1="448.4" x2="477.4" y1="351.48" y2="351.48" stroke="#fff" stroke-width="0.7"/>
<line x1="448.4" x2="477.4" y1="337.12" y2="337.12" stroke="#fff" stroke-width="0.7"/>
<line x1="448.4" x2="477.4" y1="322.77" y2="322.77" stroke="#fff" stroke-width="0.7"/>
<line x1="453.01" x2="453.01" y1="313.5" y2="375.4" stroke="#fff" stroke-width="0.7"/>
<line x1="459.6" x2="459.6" y1="313.5" y2="375.4" stroke="#fff" stroke-width="0.7"/>
<line x1="466.2" x2="466.2" y1="313.5" y2="375.4" stroke="#fff" stroke-width="0.7"/>
<line x1="472.79" x2="472.79" y1="313.5" y2="375.4" stroke="#fff" stroke-width="0.7"/>
<line x1="448.4" x2="477.4" y1="373" y2="373" stroke="#fff" stroke-width="1.3"/>
<line x1="448.4" x2="477.4" y1="358.65" y2="358.65" stroke="#fff" stroke-width="1.3"/>
<line x1="448.4" x2="477.4" y1="344.3" y2="344.3" stroke="#fff" stroke-width="1.3"/>
<line x1="448.4" x2="477.4" y1="329.95" y2="329.95" stroke="#fff" stroke-width="1.3"/>
<line x1="448.4" x2="477.4" y1="315.6" y2="315.6" stroke="#fff" stroke-width="1.3"/>
<line x1="449.72" x2="449.72" y1="313.5" y2="375.4" stroke="#fff" stroke-width="1.3"/>
<line x1="456.31" x2="456.31" y1="313.5" y2="375.4" stroke="#fff" stroke-width="1.3"/>
<line x1="462.9" x2="462.9" y1="313.5" y2="375.4" stroke="#fff" stroke-width="1.3"/>
<line x1="469.49" x2="469.49" y1="313.5" y2="375.4" stroke="#fff" stroke-width="1.3"/>
<line x1="476.08" x2="476.08" y1="313.5" y2="375.4" stroke="#fff" stroke-width="1.3"/>
<rect x="449.72" y="317.9" width="2.64" height="55.1" fill="#00BA38"/>
<rect x="452.35" y="371.74" width="2.64" height="1.26" fill="#00BA38"/>
<rect x="454.99" y="372.91" width="2.64" height="0.09" fill="#00BA38"/>
<rect x="457.63" y="372.91" width="2.64" height="0.09" fill="#00BA38"/>
<rect x="460.26" y="372.91" width="2.64" height="0.09" fill="#00BA38"/>
<rect x="462.9" y="372.91" width="2.64" height="0.09" fill="#00BA38"/>
<rect x="465.54" y="372.91" width="2.64" height="0.09" fill="#00BA38"/>
<rect x="468.17" y="372.91" width="2.64" height="0.09" fill="#00BA38"/>
<rect x="470.81" y="372.91" width="2.64" height="0.09" fill="#00BA38"/>
<rect x="473.45" y="372.91" width="2.64" height="0.09" fill="#00BA38"/>
<rect x="481.8" y="313.5" width="29.0" height="61.9" fill="#ebebeb"/>
<line x1="481.8" x2="510.8" y1="365.82" y2="365.82" stroke="#fff" stroke-width="0.7"/>
<line x1="481.8" x2="510.8" y1="351.48" y2="351.48" stroke="#fff" stroke-width="0.7"/>
<line x1="481.8" x2="510.8" y1="337.12" y2="337.12" stroke="#fff" stroke-width="0.7"/>
<line x1="481.8" x2="510.8" y1="322.77" y2="322.77" stroke="#fff" stroke-width="0.7"/>
<line x1="486.41" x2="486.41" y1="313.5" y2="375.4" stroke="#fff" stroke-width="0.7"/>
<line x1="493" x2="493" y1="313.5" y2="375.4" stroke="#fff" stroke-width="0.7"/>
<line x1="499.6" x2="499.6" y1="313.5" y2="375.4" stroke="#fff" stroke-width="0.7"/>
<line x1="506.19" x2="506.19" y1="313.5" y2="375.4" stroke="#fff" stroke-width="0.7"/>
<line x1="481.8" x2="510.8" y1="373" y2="373" stroke="#fff" stroke-width="1.3"/>
<line x1="481.8" x2="510.8" y1="358.65" y2="358.65" stroke="#fff" stroke-width="1.3"/>
<line x1="481.8" x2="510.8" y1="344.3" y2="344.3" stroke="#fff" stroke-width="1.3"/>
<line x1="481.8" x2="510.8" y1="329.95" y2="329.95" stroke="#fff" stroke-width="1.3"/>
<line x1="481.8" x2="510.8" y1="315.6" y2="315.6" stroke="#fff" stroke-width="1.3"/>
<line x1="483.12" x2="483.12" y1="313.5" y2="375.4" stroke="#fff" stroke-width="1.3"/>
<line x1="489.71" x2="489.71" y1="313.5" y2="375.4" stroke="#fff" stroke-width="1.3"/>
<line x1="496.3" x2="496.3" y1="313.5" y2="375.4" stroke="#fff" stroke-width="1.3"/>
<line x1="502.89" x2="502.89" y1="313.5" y2="375.4" stroke="#fff" stroke-width="1.3"/>
<line x1="509.48" x2="509.48" y1="313.5" y2="375.4" stroke="#fff" stroke-width="1.3"/>
<rect x="483.12" y="317.9" width="2.64" height="55.1" fill="#00BA38"/>
<rect x="485.75" y="371.74" width="2.64" height="1.26" fill="#00BA38"/>
<rect x="488.39" y="372.91" width="2.64" height="0.09" fill="#00BA38"/>
<rect x="491.03" y="372.91" width="2.64" height="0.09" fill="#00BA38"/>
<rect x="493.66" y="372.91" width="2.64" height="0.09" fill="#00BA38"/>
<rect x="496.3" y="372.91" width="2.64" height="0.09" fill="#00BA38"/>
<rect x="498.94" y="372.91" width="2.64" height="0.09" fill="#00BA38"/>
<rect x="501.57" y="372.91" width="2.64" height="0.09" fill="#00BA38"/>
<rect x="504.21" y="372.91" width="2.64" height="0.09" fill="#00BA38"/>
<rect x="506.85" y="372.91" width="2.64" height="0.09" fill="#00BA38"/>
<line x1="311.9" x2="314.8" y1="373" y2="373" stroke="#333" stroke-width="0.8"/>
<text x="310.7" y="376" text-anchor="end" font-family='"Liberation Sans", Arial, sans-serif' font-size="8.3" fill="#404040" stroke="#404040" stroke-width="0.15">0</text>
<line x1="311.9" x2="314.8" y1="358.65" y2="358.65" stroke="#333" stroke-width="0.8"/>
<text x="310.7" y="361.65" text-anchor="end" font-family='"Liberation Sans", Arial, sans-serif' font-size="8.3" fill="#404040" stroke="#404040" stroke-width="0.15">25</text>
<line x1="311.9" x2="314.8" y1="344.3" y2="344.3" stroke="#333" stroke-width="0.8"/>
<text x="310.7" y="347.3" text-anchor="end" font-family='"Liberation Sans", Arial, sans-serif' font-size="8.3" fill="#404040" stroke="#404040" stroke-width="0.15">50</text>
<line x1="311.9" x2="314.8" y1="329.95" y2="329.95" stroke="#333" stroke-width="0.8"/>
<text x="310.7" y="332.95" text-anchor="end" font-family='"Liberation Sans", Arial, sans-serif' font-size="8.3" fill="#404040" stroke="#404040" stroke-width="0.15">75</text>
<line x1="311.9" x2="314.8" y1="315.6" y2="315.6" stroke="#333" stroke-width="0.8"/>
<text x="310.7" y="318.6" text-anchor="end" font-family='"Liberation Sans", Arial, sans-serif' font-size="8.3" fill="#404040" stroke="#404040" stroke-width="0.15">100</text>
<text transform="translate(515.6 344.45) rotate(90)" text-anchor="middle" font-family='"Liberation Serif", "Times New Roman", serif' font-size="9" fill="#1a1a1a" stroke="#1a1a1a" stroke-width="0.12">CHG</text>
<rect x="510.8" y="379.4" width="15.8" height="62.1" fill="#d4d4d4"/>
<rect x="314.8" y="379.4" width="29.0" height="62.1" fill="#ebebeb"/>
<line x1="314.8" x2="343.8" y1="431.65" y2="431.65" stroke="#fff" stroke-width="0.7"/>
<line x1="314.8" x2="343.8" y1="417.35" y2="417.35" stroke="#fff" stroke-width="0.7"/>
<line x1="314.8" x2="343.8" y1="403.05" y2="403.05" stroke="#fff" stroke-width="0.7"/>
<line x1="314.8" x2="343.8" y1="388.75" y2="388.75" stroke="#fff" stroke-width="0.7"/>
<line x1="319.41" x2="319.41" y1="379.4" y2="441.5" stroke="#fff" stroke-width="0.7"/>
<line x1="326" x2="326" y1="379.4" y2="441.5" stroke="#fff" stroke-width="0.7"/>
<line x1="332.6" x2="332.6" y1="379.4" y2="441.5" stroke="#fff" stroke-width="0.7"/>
<line x1="339.19" x2="339.19" y1="379.4" y2="441.5" stroke="#fff" stroke-width="0.7"/>
<line x1="314.8" x2="343.8" y1="438.8" y2="438.8" stroke="#fff" stroke-width="1.3"/>
<line x1="314.8" x2="343.8" y1="424.5" y2="424.5" stroke="#fff" stroke-width="1.3"/>
<line x1="314.8" x2="343.8" y1="410.2" y2="410.2" stroke="#fff" stroke-width="1.3"/>
<line x1="314.8" x2="343.8" y1="395.9" y2="395.9" stroke="#fff" stroke-width="1.3"/>
<line x1="314.8" x2="343.8" y1="381.6" y2="381.6" stroke="#fff" stroke-width="1.3"/>
<line x1="316.12" x2="316.12" y1="379.4" y2="441.5" stroke="#fff" stroke-width="1.3"/>
<line x1="322.71" x2="322.71" y1="379.4" y2="441.5" stroke="#fff" stroke-width="1.3"/>
<line x1="329.3" x2="329.3" y1="379.4" y2="441.5" stroke="#fff" stroke-width="1.3"/>
<line x1="335.89" x2="335.89" y1="379.4" y2="441.5" stroke="#fff" stroke-width="1.3"/>
<line x1="342.48" x2="342.48" y1="379.4" y2="441.5" stroke="#fff" stroke-width="1.3"/>
<rect x="316.12" y="383.6" width="2.64" height="55.2" fill="#619CFF"/>
<rect x="318.75" y="437.66" width="2.64" height="1.14" fill="#619CFF"/>
<rect x="321.39" y="438.71" width="2.64" height="0.09" fill="#619CFF"/>
<rect x="324.03" y="438.71" width="2.64" height="0.09" fill="#619CFF"/>
<rect x="326.66" y="438.71" width="2.64" height="0.09" fill="#619CFF"/>
<rect x="329.3" y="438.71" width="2.64" height="0.09" fill="#619CFF"/>
<rect x="331.94" y="438.71" width="2.64" height="0.09" fill="#619CFF"/>
<rect x="334.57" y="438.71" width="2.64" height="0.09" fill="#619CFF"/>
<rect x="337.21" y="438.71" width="2.64" height="0.09" fill="#619CFF"/>
<rect x="339.85" y="438.71" width="2.64" height="0.09" fill="#619CFF"/>
<rect x="348.2" y="379.4" width="29.0" height="62.1" fill="#ebebeb"/>
<line x1="348.2" x2="377.2" y1="431.65" y2="431.65" stroke="#fff" stroke-width="0.7"/>
<line x1="348.2" x2="377.2" y1="417.35" y2="417.35" stroke="#fff" stroke-width="0.7"/>
<line x1="348.2" x2="377.2" y1="403.05" y2="403.05" stroke="#fff" stroke-width="0.7"/>
<line x1="348.2" x2="377.2" y1="388.75" y2="388.75" stroke="#fff" stroke-width="0.7"/>
<line x1="352.81" x2="352.81" y1="379.4" y2="441.5" stroke="#fff" stroke-width="0.7"/>
<line x1="359.4" x2="359.4" y1="379.4" y2="441.5" stroke="#fff" stroke-width="0.7"/>
<line x1="366" x2="366" y1="379.4" y2="441.5" stroke="#fff" stroke-width="0.7"/>
<line x1="372.59" x2="372.59" y1="379.4" y2="441.5" stroke="#fff" stroke-width="0.7"/>
<line x1="348.2" x2="377.2" y1="438.8" y2="438.8" stroke="#fff" stroke-width="1.3"/>
<line x1="348.2" x2="377.2" y1="424.5" y2="424.5" stroke="#fff" stroke-width="1.3"/>
<line x1="348.2" x2="377.2" y1="410.2" y2="410.2" stroke="#fff" stroke-width="1.3"/>
<line x1="348.2" x2="377.2" y1="395.9" y2="395.9" stroke="#fff" stroke-width="1.3"/>
<line x1="348.2" x2="377.2" y1="381.6" y2="381.6" stroke="#fff" stroke-width="1.3"/>
<line x1="349.52" x2="349.52" y1="379.4" y2="441.5" stroke="#fff" stroke-width="1.3"/>
<line x1="356.11" x2="356.11" y1="379.4" y2="441.5" stroke="#fff" stroke-width="1.3"/>
<line x1="362.7" x2="362.7" y1="379.4" y2="441.5" stroke="#fff" stroke-width="1.3"/>
<line x1="369.29" x2="369.29" y1="379.4" y2="441.5" stroke="#fff" stroke-width="1.3"/>
<line x1="375.88" x2="375.88" y1="379.4" y2="441.5" stroke="#fff" stroke-width="1.3"/>
<rect x="349.52" y="383.6" width="2.64" height="55.2" fill="#619CFF"/>
<rect x="352.15" y="437.66" width="2.64" height="1.14" fill="#619CFF"/>
<rect x="354.79" y="438.71" width="2.64" height="0.09" fill="#619CFF"/>
<rect x="357.43" y="438.71" width="2.64" height="0.09" fill="#619CFF"/>
<rect x="360.06" y="438.71" width="2.64" height="0.09" fill="#619CFF"/>
<rect x="362.7" y="438.71" width="2.64" height="0.09" fill="#619CFF"/>
<rect x="365.34" y="438.71" width="2.64" height="0.09" fill="#619CFF"/>
<rect x="367.97" y="438.71" width="2.64" height="0.09" fill="#619CFF"/>
<rect x="370.61" y="438.71" width="2.64" height="0.09" fill="#619CFF"/>
<rect x="373.25" y="438.71" width="2.64" height="0.09" fill="#619CFF"/>
<rect x="381.6" y="379.4" width="29.0" height="62.1" fill="#ebebeb"/>
<line x1="381.6" x2="410.6" y1="431.65" y2="431.65" stroke="#fff" stroke-width="0.7"/>
<line x1="381.6" x2="410.6" y1="417.35" y2="417.35" stroke="#fff" stroke-width="0.7"/>
<line x1="381.6" x2="410.6" y1="403.05" y2="403.05" stroke="#fff" stroke-width="0.7"/>
<line x1="381.6" x2="410.6" y1="388.75" y2="388.75" stroke="#fff" stroke-width="0.7"/>
<line x1="386.21" x2="386.21" y1="379.4" y2="441.5" stroke="#fff" stroke-width="0.7"/>
<line x1="392.8" x2="392.8" y1="379.4" y2="441.5" stroke="#fff" stroke-width="0.7"/>
<line x1="399.4" x2="399.4" y1="379.4" y2="441.5" stroke="#fff" stroke-width="0.7"/>
<line x1="405.99" x2="405.99" y1="379.4" y2="441.5" stroke="#fff" stroke-width="0.7"/>
<line x1="381.6" x2="410.6" y1="438.8" y2="438.8" stroke="#fff" stroke-width="1.3"/>
<line x1="381.6" x2="410.6" y1="424.5" y2="424.5" stroke="#fff" stroke-width="1.3"/>
<line x1="381.6" x2="410.6" y1="410.2" y2="410.2" stroke="#fff" stroke-width="1.3"/>
<line x1="381.6" x2="410.6" y1="395.9" y2="395.9" stroke="#fff" stroke-width="1.3"/>
<line x1="381.6" x2="410.6" y1="381.6" y2="381.6" stroke="#fff" stroke-width="1.3"/>
<line x1="382.92" x2="382.92" y1="379.4" y2="441.5" stroke="#fff" stroke-width="1.3"/>
<line x1="389.51" x2="389.51" y1="379.4" y2="441.5" stroke="#fff" stroke-width="1.3"/>
<line x1="396.1" x2="396.1" y1="379.4" y2="441.5" stroke="#fff" stroke-width="1.3"/>
<line x1="402.69" x2="402.69" y1="379.4" y2="441.5" stroke="#fff" stroke-width="1.3"/>
<line x1="409.28" x2="409.28" y1="379.4" y2="441.5" stroke="#fff" stroke-width="1.3"/>
<rect x="382.92" y="383.6" width="2.64" height="55.2" fill="#619CFF"/>
<rect x="385.55" y="437.66" width="2.64" height="1.14" fill="#619CFF"/>
<rect x="388.19" y="438.71" width="2.64" height="0.09" fill="#619CFF"/>
<rect x="390.83" y="438.71" width="2.64" height="0.09" fill="#619CFF"/>
<rect x="393.46" y="438.71" width="2.64" height="0.09" fill="#619CFF"/>
<rect x="396.1" y="438.71" width="2.64" height="0.09" fill="#619CFF"/>
<rect x="398.74" y="438.71" width="2.64" height="0.09" fill="#619CFF"/>
<rect x="401.37" y="438.71" width="2.64" height="0.09" fill="#619CFF"/>
<rect x="404.01" y="438.71" width="2.64" height="0.09" fill="#619CFF"/>
<rect x="406.65" y="438.71" width="2.64" height="0.09" fill="#619CFF"/>
<rect x="415" y="379.4" width="29.0" height="62.1" fill="#ebebeb"/>
<line x1="415" x2="444" y1="431.65" y2="431.65" stroke="#fff" stroke-width="0.7"/>
<line x1="415" x2="444" y1="417.35" y2="417.35" stroke="#fff" stroke-width="0.7"/>
<line x1="415" x2="444" y1="403.05" y2="403.05" stroke="#fff" stroke-width="0.7"/>
<line x1="415" x2="444" y1="388.75" y2="388.75" stroke="#fff" stroke-width="0.7"/>
<line x1="419.61" x2="419.61" y1="379.4" y2="441.5" stroke="#fff" stroke-width="0.7"/>
<line x1="426.2" x2="426.2" y1="379.4" y2="441.5" stroke="#fff" stroke-width="0.7"/>
<line x1="432.8" x2="432.8" y1="379.4" y2="441.5" stroke="#fff" stroke-width="0.7"/>
<line x1="439.39" x2="439.39" y1="379.4" y2="441.5" stroke="#fff" stroke-width="0.7"/>
<line x1="415" x2="444" y1="438.8" y2="438.8" stroke="#fff" stroke-width="1.3"/>
<line x1="415" x2="444" y1="424.5" y2="424.5" stroke="#fff" stroke-width="1.3"/>
<line x1="415" x2="444" y1="410.2" y2="410.2" stroke="#fff" stroke-width="1.3"/>
<line x1="415" x2="444" y1="395.9" y2="395.9" stroke="#fff" stroke-width="1.3"/>
<line x1="415" x2="444" y1="381.6" y2="381.6" stroke="#fff" stroke-width="1.3"/>
<line x1="416.32" x2="416.32" y1="379.4" y2="441.5" stroke="#fff" stroke-width="1.3"/>
<line x1="422.91" x2="422.91" y1="379.4" y2="441.5" stroke="#fff" stroke-width="1.3"/>
<line x1="429.5" x2="429.5" y1="379.4" y2="441.5" stroke="#fff" stroke-width="1.3"/>
<line x1="436.09" x2="436.09" y1="379.4" y2="441.5" stroke="#fff" stroke-width="1.3"/>
<line x1="442.68" x2="442.68" y1="379.4" y2="441.5" stroke="#fff" stroke-width="1.3"/>
<rect x="416.32" y="383.6" width="2.64" height="55.2" fill="#619CFF"/>
<rect x="418.95" y="437.66" width="2.64" height="1.14" fill="#619CFF"/>
<rect x="421.59" y="438.71" width="2.64" height="0.09" fill="#619CFF"/>
<rect x="424.23" y="438.71" width="2.64" height="0.09" fill="#619CFF"/>
<rect x="426.86" y="438.71" width="2.64" height="0.09" fill="#619CFF"/>
<rect x="429.5" y="438.71" width="2.64" height="0.09" fill="#619CFF"/>
<rect x="432.14" y="438.71" width="2.64" height="0.09" fill="#619CFF"/>
<rect x="434.77" y="438.71" width="2.64" height="0.09" fill="#619CFF"/>
<rect x="437.41" y="438.71" width="2.64" height="0.09" fill="#619CFF"/>
<rect x="440.05" y="438.71" width="2.64" height="0.09" fill="#619CFF"/>
<rect x="448.4" y="379.4" width="29.0" height="62.1" fill="#ebebeb"/>
<line x1="448.4" x2="477.4" y1="431.65" y2="431.65" stroke="#fff" stroke-width="0.7"/>
<line x1="448.4" x2="477.4" y1="417.35" y2="417.35" stroke="#fff" stroke-width="0.7"/>
<line x1="448.4" x2="477.4" y1="403.05" y2="403.05" stroke="#fff" stroke-width="0.7"/>
<line x1="448.4" x2="477.4" y1="388.75" y2="388.75" stroke="#fff" stroke-width="0.7"/>
<line x1="453.01" x2="453.01" y1="379.4" y2="441.5" stroke="#fff" stroke-width="0.7"/>
<line x1="459.6" x2="459.6" y1="379.4" y2="441.5" stroke="#fff" stroke-width="0.7"/>
<line x1="466.2" x2="466.2" y1="379.4" y2="441.5" stroke="#fff" stroke-width="0.7"/>
<line x1="472.79" x2="472.79" y1="379.4" y2="441.5" stroke="#fff" stroke-width="0.7"/>
<line x1="448.4" x2="477.4" y1="438.8" y2="438.8" stroke="#fff" stroke-width="1.3"/>
<line x1="448.4" x2="477.4" y1="424.5" y2="424.5" stroke="#fff" stroke-width="1.3"/>
<line x1="448.4" x2="477.4" y1="410.2" y2="410.2" stroke="#fff" stroke-width="1.3"/>
<line x1="448.4" x2="477.4" y1="395.9" y2="395.9" stroke="#fff" stroke-width="1.3"/>
<line x1="448.4" x2="477.4" y1="381.6" y2="381.6" stroke="#fff" stroke-width="1.3"/>
<line x1="449.72" x2="449.72" y1="379.4" y2="441.5" stroke="#fff" stroke-width="1.3"/>
<line x1="456.31" x2="456.31" y1="379.4" y2="441.5" stroke="#fff" stroke-width="1.3"/>
<line x1="462.9" x2="462.9" y1="379.4" y2="441.5" stroke="#fff" stroke-width="1.3"/>
<line x1="469.49" x2="469.49" y1="379.4" y2="441.5" stroke="#fff" stroke-width="1.3"/>
<line x1="476.08" x2="476.08" y1="379.4" y2="441.5" stroke="#fff" stroke-width="1.3"/>
<rect x="449.72" y="383.6" width="2.64" height="55.2" fill="#619CFF"/>
<rect x="452.35" y="437.66" width="2.64" height="1.14" fill="#619CFF"/>
<rect x="454.99" y="438.71" width="2.64" height="0.09" fill="#619CFF"/>
<rect x="457.63" y="438.71" width="2.64" height="0.09" fill="#619CFF"/>
<rect x="460.26" y="438.71" width="2.64" height="0.09" fill="#619CFF"/>
<rect x="462.9" y="438.71" width="2.64" height="0.09" fill="#619CFF"/>
<rect x="465.54" y="438.71" width="2.64" height="0.09" fill="#619CFF"/>
<rect x="468.17" y="438.71" width="2.64" height="0.09" fill="#619CFF"/>
<rect x="470.81" y="438.71" width="2.64" height="0.09" fill="#619CFF"/>
<rect x="473.45" y="438.71" width="2.64" height="0.09" fill="#619CFF"/>
<rect x="481.8" y="379.4" width="29.0" height="62.1" fill="#ebebeb"/>
<line x1="481.8" x2="510.8" y1="431.65" y2="431.65" stroke="#fff" stroke-width="0.7"/>
<line x1="481.8" x2="510.8" y1="417.35" y2="417.35" stroke="#fff" stroke-width="0.7"/>
<line x1="481.8" x2="510.8" y1="403.05" y2="403.05" stroke="#fff" stroke-width="0.7"/>
<line x1="481.8" x2="510.8" y1="388.75" y2="388.75" stroke="#fff" stroke-width="0.7"/>
<line x1="486.41" x2="486.41" y1="379.4" y2="441.5" stroke="#fff" stroke-width="0.7"/>
<line x1="493" x2="493" y1="379.4" y2="441.5" stroke="#fff" stroke-width="0.7"/>
<line x1="499.6" x2="499.6" y1="379.4" y2="441.5" stroke="#fff" stroke-width="0.7"/>
<line x1="506.19" x2="506.19" y1="379.4" y2="441.5" stroke="#fff" stroke-width="0.7"/>
<line x1="481.8" x2="510.8" y1="438.8" y2="438.8" stroke="#fff" stroke-width="1.3"/>
<line x1="481.8" x2="510.8" y1="424.5" y2="424.5" stroke="#fff" stroke-width="1.3"/>
<line x1="481.8" x2="510.8" y1="410.2" y2="410.2" stroke="#fff" stroke-width="1.3"/>
<line x1="481.8" x2="510.8" y1="395.9" y2="395.9" stroke="#fff" stroke-width="1.3"/>
<line x1="481.8" x2="510.8" y1="381.6" y2="381.6" stroke="#fff" stroke-width="1.3"/>
<line x1="483.12" x2="483.12" y1="379.4" y2="441.5" stroke="#fff" stroke-width="1.3"/>
<line x1="489.71" x2="489.71" y1="379.4" y2="441.5" stroke="#fff" stroke-width="1.3"/>
<line x1="496.3" x2="496.3" y1="379.4" y2="441.5" stroke="#fff" stroke-width="1.3"/>
<line x1="502.89" x2="502.89" y1="379.4" y2="441.5" stroke="#fff" stroke-width="1.3"/>
<line x1="509.48" x2="509.48" y1="379.4" y2="441.5" stroke="#fff" stroke-width="1.3"/>
<rect x="483.12" y="383.6" width="2.64" height="55.2" fill="#619CFF"/>
<rect x="485.75" y="437.66" width="2.64" height="1.14" fill="#619CFF"/>
<rect x="488.39" y="438.71" width="2.64" height="0.09" fill="#619CFF"/>
<rect x="491.03" y="438.71" width="2.64" height="0.09" fill="#619CFF"/>
<rect x="493.66" y="438.71" width="2.64" height="0.09" fill="#619CFF"/>
<rect x="496.3" y="438.71" width="2.64" height="0.09" fill="#619CFF"/>
<rect x="498.94" y="438.71" width="2.64" height="0.09" fill="#619CFF"/>
<rect x="501.57" y="438.71" width="2.64" height="0.09" fill="#619CFF"/>
<rect x="504.21" y="438.71" width="2.64" height="0.09" fill="#619CFF"/>
<rect x="506.85" y="438.71" width="2.64" height="0.09" fill="#619CFF"/>
<line x1="311.9" x2="314.8" y1="438.8" y2="438.8" stroke="#333" stroke-width="0.8"/>
<text x="310.7" y="441.8" text-anchor="end" font-family='"Liberation Sans", Arial, sans-serif' font-size="8.3" fill="#404040" stroke="#404040" stroke-width="0.15">0</text>
<line x1="311.9" x2="314.8" y1="424.5" y2="424.5" stroke="#333" stroke-width="0.8"/>
<text x="310.7" y="427.5" text-anchor="end" font-family='"Liberation Sans", Arial, sans-serif' font-size="8.3" fill="#404040" stroke="#404040" stroke-width="0.15">25</text>
<line x1="311.9" x2="314.8" y1="410.2" y2="410.2" stroke="#333" stroke-width="0.8"/>
<text x="310.7" y="413.2" text-anchor="end" font-family='"Liberation Sans", Arial, sans-serif' font-size="8.3" fill="#404040" stroke="#404040" stroke-width="0.15">50</text>
<line x1="311.9" x2="314.8" y1="395.9" y2="395.9" stroke="#333" stroke-width="0.8"/>
<text x="310.7" y="398.9" text-anchor="end" font-family='"Liberation Sans", Arial, sans-serif' font-size="8.3" fill="#404040" stroke="#404040" stroke-width="0.15">75</text>
<line x1="311.9" x2="314.8" y1="381.6" y2="381.6" stroke="#333" stroke-width="0.8"/>
<text x="310.7" y="384.6" text-anchor="end" font-family='"Liberation Sans", Arial, sans-serif' font-size="8.3" fill="#404040" stroke="#404040" stroke-width="0.15">100</text>
<text transform="translate(515.6 410.45) rotate(90)" text-anchor="middle" font-family='"Liberation Serif", "Times New Roman", serif' font-size="9" fill="#1a1a1a" stroke="#1a1a1a" stroke-width="0.12">CHH</text>
<rect x="314.8" y="232.9" width="29.0" height="14.9" fill="#d4d4d4"/>
<text x="329.3" y="243.8" text-anchor="middle" font-family='"Liberation Serif", "Times New Roman", serif' font-size="8.2" fill="#1a1a1a" stroke="#1a1a1a" stroke-width="0.12">1HPP</text>
<rect x="348.2" y="232.9" width="29.0" height="14.9" fill="#d4d4d4"/>
<text x="362.7" y="243.8" text-anchor="middle" font-family='"Liberation Serif", "Times New Roman", serif' font-size="8.2" fill="#1a1a1a" stroke="#1a1a1a" stroke-width="0.12">2HPP</text>
<rect x="381.6" y="232.9" width="29.0" height="14.9" fill="#d4d4d4"/>
<text x="396.1" y="243.8" text-anchor="middle" font-family='"Liberation Serif", "Times New Roman", serif' font-size="8.2" fill="#1a1a1a" stroke="#1a1a1a" stroke-width="0.12">3HPP</text>
<rect x="415" y="232.9" width="29.0" height="14.9" fill="#d4d4d4"/>
<text x="429.5" y="243.8" text-anchor="middle" font-family='"Liberation Serif", "Times New Roman", serif' font-size="8.2" fill="#1a1a1a" stroke="#1a1a1a" stroke-width="0.12">4LPP</text>
<rect x="448.4" y="232.9" width="29.0" height="14.9" fill="#d4d4d4"/>
<text x="462.9" y="243.8" text-anchor="middle" font-family='"Liberation Serif", "Times New Roman", serif' font-size="8.2" fill="#1a1a1a" stroke="#1a1a1a" stroke-width="0.12">5LPP</text>
<rect x="481.8" y="232.9" width="29.0" height="14.9" fill="#d4d4d4"/>
<text x="496.3" y="243.8" text-anchor="middle" font-family='"Liberation Serif", "Times New Roman", serif' font-size="8.2" fill="#1a1a1a" stroke="#1a1a1a" stroke-width="0.12">6LPP</text>
<line x1="316.12" x2="316.12" y1="441.5" y2="444.2" stroke="#333" stroke-width="0.8"/>
<text transform="translate(322.02 446.3) rotate(-90)" text-anchor="end" font-family='"Liberation Sans", Arial, sans-serif' font-size="8.3" fill="#404040" stroke="#404040" stroke-width="0.12">0.00</text>
<line x1="322.71" x2="322.71" y1="441.5" y2="444.2" stroke="#333" stroke-width="0.8"/>
<text transform="translate(328.61 446.3) rotate(-90)" text-anchor="end" font-family='"Liberation Sans", Arial, sans-serif' font-size="8.3" fill="#404040" stroke="#404040" stroke-width="0.12">0.25</text>
<line x1="329.3" x2="329.3" y1="441.5" y2="444.2" stroke="#333" stroke-width="0.8"/>
<text transform="translate(335.2 446.3) rotate(-90)" text-anchor="end" font-family='"Liberation Sans", Arial, sans-serif' font-size="8.3" fill="#404040" stroke="#404040" stroke-width="0.12">0.50</text>
<line x1="335.89" x2="335.89" y1="441.5" y2="444.2" stroke="#333" stroke-width="0.8"/>
<text transform="translate(341.79 446.3) rotate(-90)" text-anchor="end" font-family='"Liberation Sans", Arial, sans-serif' font-size="8.3" fill="#404040" stroke="#404040" stroke-width="0.12">0.75</text>
<line x1="342.48" x2="342.48" y1="441.5" y2="444.2" stroke="#333" stroke-width="0.8"/>
<text transform="translate(348.38 446.3) rotate(-90)" text-anchor="end" font-family='"Liberation Sans", Arial, sans-serif' font-size="8.3" fill="#404040" stroke="#404040" stroke-width="0.12">1.00</text>
<line x1="349.52" x2="349.52" y1="441.5" y2="444.2" stroke="#333" stroke-width="0.8"/>
<text transform="translate(355.42 446.3) rotate(-90)" text-anchor="end" font-family='"Liberation Sans", Arial, sans-serif' font-size="8.3" fill="#404040" stroke="#404040" stroke-width="0.12">0.00</text>
<line x1="356.11" x2="356.11" y1="441.5" y2="444.2" stroke="#333" stroke-width="0.8"/>
<text transform="translate(362.01 446.3) rotate(-90)" text-anchor="end" font-family='"Liberation Sans", Arial, sans-serif' font-size="8.3" fill="#404040" stroke="#404040" stroke-width="0.12">0.25</text>
<line x1="362.7" x2="362.7" y1="441.5" y2="444.2" stroke="#333" stroke-width="0.8"/>
<text transform="translate(368.6 446.3) rotate(-90)" text-anchor="end" font-family='"Liberation Sans", Arial, sans-serif' font-size="8.3" fill="#404040" stroke="#404040" stroke-width="0.12">0.50</text>
<line x1="369.29" x2="369.29" y1="441.5" y2="444.2" stroke="#333" stroke-width="0.8"/>
<text transform="translate(375.19 446.3) rotate(-90)" text-anchor="end" font-family='"Liberation Sans", Arial, sans-serif' font-size="8.3" fill="#404040" stroke="#404040" stroke-width="0.12">0.75</text>
<line x1="375.88" x2="375.88" y1="441.5" y2="444.2" stroke="#333" stroke-width="0.8"/>
<text transform="translate(381.78 446.3) rotate(-90)" text-anchor="end" font-family='"Liberation Sans", Arial, sans-serif' font-size="8.3" fill="#404040" stroke="#404040" stroke-width="0.12">1.00</text>
<line x1="382.92" x2="382.92" y1="441.5" y2="444.2" stroke="#333" stroke-width="0.8"/>
<text transform="translate(388.82 446.3) rotate(-90)" text-anchor="end" font-family='"Liberation Sans", Arial, sans-serif' font-size="8.3" fill="#404040" stroke="#404040" stroke-width="0.12">0.00</text>
<line x1="389.51" x2="389.51" y1="441.5" y2="444.2" stroke="#333" stroke-width="0.8"/>
<text transform="translate(395.41 446.3) rotate(-90)" text-anchor="end" font-family='"Liberation Sans", Arial, sans-serif' font-size="8.3" fill="#404040" stroke="#404040" stroke-width="0.12">0.25</text>
<line x1="396.1" x2="396.1" y1="441.5" y2="444.2" stroke="#333" stroke-width="0.8"/>
<text transform="translate(402 446.3) rotate(-90)" text-anchor="end" font-family='"Liberation Sans", Arial, sans-serif' font-size="8.3" fill="#404040" stroke="#404040" stroke-width="0.12">0.50</text>
<line x1="402.69" x2="402.69" y1="441.5" y2="444.2" stroke="#333" stroke-width="0.8"/>
<text transform="translate(408.59 446.3) rotate(-90)" text-anchor="end" font-family='"Liberation Sans", Arial, sans-serif' font-size="8.3" fill="#404040" stroke="#404040" stroke-width="0.12">0.75</text>
<line x1="409.28" x2="409.28" y1="441.5" y2="444.2" stroke="#333" stroke-width="0.8"/>
<text transform="translate(415.18 446.3) rotate(-90)" text-anchor="end" font-family='"Liberation Sans", Arial, sans-serif' font-size="8.3" fill="#404040" stroke="#404040" stroke-width="0.12">1.00</text>
<line x1="416.32" x2="416.32" y1="441.5" y2="444.2" stroke="#333" stroke-width="0.8"/>
<text transform="translate(422.22 446.3) rotate(-90)" text-anchor="end" font-family='"Liberation Sans", Arial, sans-serif' font-size="8.3" fill="#404040" stroke="#404040" stroke-width="0.12">0.00</text>
<line x1="422.91" x2="422.91" y1="441.5" y2="444.2" stroke="#333" stroke-width="0.8"/>
<text transform="translate(428.81 446.3) rotate(-90)" text-anchor="end" font-family='"Liberation Sans", Arial, sans-serif' font-size="8.3" fill="#404040" stroke="#404040" stroke-width="0.12">0.25</text>
<line x1="429.5" x2="429.5" y1="441.5" y2="444.2" stroke="#333" stroke-width="0.8"/>
<text transform="translate(435.4 446.3) rotate(-90)" text-anchor="end" font-family='"Liberation Sans", Arial, sans-serif' font-size="8.3" fill="#404040" stroke="#404040" stroke-width="0.12">0.50</text>
<line x1="436.09" x2="436.09" y1="441.5" y2="444.2" stroke="#333" stroke-width="0.8"/>
<text transform="translate(441.99 446.3) rotate(-90)" text-anchor="end" font-family='"Liberation Sans", Arial, sans-serif' font-size="8.3" fill="#404040" stroke="#404040" stroke-width="0.12">0.75</text>
<line x1="442.68" x2="442.68" y1="441.5" y2="444.2" stroke="#333" stroke-width="0.8"/>
<text transform="translate(448.58 446.3) rotate(-90)" text-anchor="end" font-family='"Liberation Sans", Arial, sans-serif' font-size="8.3" fill="#404040" stroke="#404040" stroke-width="0.12">1.00</text>
<line x1="449.72" x2="449.72" y1="441.5" y2="444.2" stroke="#333" stroke-width="0.8"/>
<text transform="translate(455.62 446.3) rotate(-90)" text-anchor="end" font-family='"Liberation Sans", Arial, sans-serif' font-size="8.3" fill="#404040" stroke="#404040" stroke-width="0.12">0.00</text>
<line x1="456.31" x2="456.31" y1="441.5" y2="444.2" stroke="#333" stroke-width="0.8"/>
<text transform="translate(462.21 446.3) rotate(-90)" text-anchor="end" font-family='"Liberation Sans", Arial, sans-serif' font-size="8.3" fill="#404040" stroke="#404040" stroke-width="0.12">0.25</text>
<line x1="462.9" x2="462.9" y1="441.5" y2="444.2" stroke="#333" stroke-width="0.8"/>
<text transform="translate(468.8 446.3) rotate(-90)" text-anchor="end" font-family='"Liberation Sans", Arial, sans-serif' font-size="8.3" fill="#404040" stroke="#404040" stroke-width="0.12">0.50</text>
<line x1="469.49" x2="469.49" y1="441.5" y2="444.2" stroke="#333" stroke-width="0.8"/>
<text transform="translate(475.39 446.3) rotate(-90)" text-anchor="end" font-family='"Liberation Sans", Arial, sans-serif' font-size="8.3" fill="#404040" stroke="#404040" stroke-width="0.12">0.75</text>
<line x1="476.08" x2="476.08" y1="441.5" y2="444.2" stroke="#333" stroke-width="0.8"/>
<text transform="translate(481.98 446.3) rotate(-90)" text-anchor="end" font-family='"Liberation Sans", Arial, sans-serif' font-size="8.3" fill="#404040" stroke="#404040" stroke-width="0.12">1.00</text>
<line x1="483.12" x2="483.12" y1="441.5" y2="444.2" stroke="#333" stroke-width="0.8"/>
<text transform="translate(489.02 446.3) rotate(-90)" text-anchor="end" font-family='"Liberation Sans", Arial, sans-serif' font-size="8.3" fill="#404040" stroke="#404040" stroke-width="0.12">0.00</text>
<line x1="489.71" x2="489.71" y1="441.5" y2="444.2" stroke="#333" stroke-width="0.8"/>
<text transform="translate(495.61 446.3) rotate(-90)" text-anchor="end" font-family='"Liberation Sans", Arial, sans-serif' font-size="8.3" fill="#404040" stroke="#404040" stroke-width="0.12">0.25</text>
<line x1="496.3" x2="496.3" y1="441.5" y2="444.2" stroke="#333" stroke-width="0.8"/>
<text transform="translate(502.2 446.3) rotate(-90)" text-anchor="end" font-family='"Liberation Sans", Arial, sans-serif' font-size="8.3" fill="#404040" stroke="#404040" stroke-width="0.12">0.50</text>
<line x1="502.89" x2="502.89" y1="441.5" y2="444.2" stroke="#333" stroke-width="0.8"/>
<text transform="translate(508.79 446.3) rotate(-90)" text-anchor="end" font-family='"Liberation Sans", Arial, sans-serif' font-size="8.3" fill="#404040" stroke="#404040" stroke-width="0.12">0.75</text>
<line x1="509.48" x2="509.48" y1="441.5" y2="444.2" stroke="#333" stroke-width="0.8"/>
<text transform="translate(515.38 446.3) rotate(-90)" text-anchor="end" font-family='"Liberation Sans", Arial, sans-serif' font-size="8.3" fill="#404040" stroke="#404040" stroke-width="0.12">1.00</text>
<text x="412.9" y="471.2" text-anchor="middle" font-family='"Liberation Sans", Arial, sans-serif' font-size="9.5" fill="#111" stroke="#111" stroke-width="0.2">Methylation level</text>
<text transform="translate(292.2 344.4) rotate(-90)" text-anchor="middle" font-family='"Liberation Sans", Arial, sans-serif' font-size="9.6" fill="#111" stroke="#111" stroke-width="0.2">Percentage (%)</text>
</svg>
</body></html>
